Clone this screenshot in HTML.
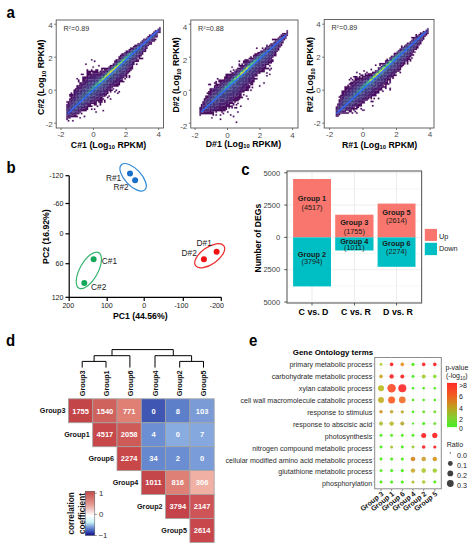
<!DOCTYPE html>
<html><head><meta charset="utf-8"><style>
html,body{margin:0;padding:0;background:#fff;}
svg{display:block;font-family:"Liberation Sans", sans-serif;}
</style></head><body>
<svg width="474" height="550" viewBox="0 0 474 550">
<rect width="474" height="550" fill="#fff"/>
<text transform="translate(6.6,17.6) scale(1,1.08)" font-size="15" font-weight="bold" fill="#000">a</text>
<text transform="translate(6.4,173.3) scale(1,1.08)" font-size="15" font-weight="bold" fill="#000">b</text>
<text transform="translate(241.3,174.8) scale(1,1.08)" font-size="15" font-weight="bold" fill="#000">c</text>
<text transform="translate(6,345.8) scale(1,1.08)" font-size="15" font-weight="bold" fill="#000">d</text>
<text transform="translate(249.1,346.1) scale(1,1.08)" font-size="15" font-weight="bold" fill="#000">e</text>
<clipPath id="clip1"><rect x="56.2" y="20" width="107.3" height="108"/></clipPath>
<g clip-path="url(#clip1)"><g transform="translate(56.2,20) scale(1.45)">
<path fill="#46095c" stroke="#46095c" stroke-width="0.14" d="M71 5h1v1h-1zM68 7h1v1h-1zM67 8h1v1h-1zM71 8h1v1h-1zM64 10h1v1h-1zM69 10h1v1h-1zM63 11h1v1h-1zM69 11h1v1h-1zM60 13h1v1h-1zM67 13h2v1h-2zM59 14h1v1h-1zM66 14h2v1h-2zM65 15h1v1h-1zM56 16h1v1h-1zM64 16h2v1h-2zM54 17h2v1h-2zM63 17h1v1h-1zM53 18h2v1h-2zM51 19h2v1h-2zM62 19h1v1h-1zM50 20h2v1h-2zM61 20h1v1h-1zM48 21h2v1h-2zM60 21h2v1h-2zM47 22h1v1h-1zM59 22h1v1h-1zM45 23h2v1h-2zM59 23h1v1h-1zM44 24h2v1h-2zM57 24h2v1h-2zM43 25h2v1h-2zM57 25h1v1h-1zM43 26h1v1h-1zM57 26h3v1h-3zM24 27h1v1h-1zM41 27h2v1h-2zM55 27h2v1h-2zM26 28h1v1h-1zM40 28h2v1h-2zM54 28h3v1h-3zM40 29h1v1h-1zM53 29h1v1h-1zM20 30h1v1h-1zM39 30h1v1h-1zM53 30h1v1h-1zM55 30h1v1h-1zM29 31h1v1h-1zM37 31h2v1h-2zM52 31h1v1h-1zM25 32h1v1h-1zM36 32h2v1h-2zM51 32h2v1h-2zM31 33h5v1h-5zM51 33h2v1h-2zM21 34h1v1h-1zM24 34h1v1h-1zM27 34h2v1h-2zM31 34h1v1h-1zM33 34h2v1h-2zM50 34h2v1h-2zM21 35h8v1h-8zM30 35h1v1h-1zM32 35h1v1h-1zM49 35h2v1h-2zM21 36h3v1h-3zM25 36h5v1h-5zM48 36h2v1h-2zM17 37h2v1h-2zM21 37h4v1h-4zM48 37h1v1h-1zM21 38h2v1h-2zM47 38h2v1h-2zM50 38h1v1h-1zM18 39h4v1h-4zM46 39h1v1h-1zM48 39h1v1h-1zM50 39h1v1h-1zM14 40h1v1h-1zM18 40h3v1h-3zM47 40h1v1h-1zM15 41h1v1h-1zM18 41h2v1h-2zM44 41h2v1h-2zM15 42h1v1h-1zM18 42h1v1h-1zM43 42h4v1h-4zM16 43h2v1h-2zM42 43h2v1h-2zM16 44h1v1h-1zM40 44h4v1h-4zM14 45h3v1h-3zM38 45h5v1h-5zM14 46h1v1h-1zM38 46h1v1h-1zM13 47h2v1h-2zM37 47h1v1h-1zM39 47h1v1h-1zM12 48h2v1h-2zM36 48h3v1h-3zM41 48h1v1h-1zM12 49h1v1h-1zM35 49h1v1h-1zM37 49h1v1h-1zM40 49h1v1h-1zM43 49h1v1h-1zM10 50h1v1h-1zM12 50h1v1h-1zM34 50h2v1h-2zM42 50h1v1h-1zM9 51h3v1h-3zM33 51h2v1h-2zM9 52h3v1h-3zM32 52h2v1h-2zM36 52h1v1h-1zM10 53h1v1h-1zM30 53h2v1h-2zM35 53h1v1h-1zM9 54h2v1h-2zM29 54h4v1h-4zM37 54h1v1h-1zM9 55h1v1h-1zM27 55h5v1h-5zM33 55h1v1h-1zM7 56h3v1h-3zM26 56h2v1h-2zM29 56h3v1h-3zM33 56h1v1h-1zM8 57h1v1h-1zM24 57h4v1h-4zM30 57h1v1h-1zM7 58h1v1h-1zM22 58h2v1h-2zM26 58h2v1h-2zM30 58h1v1h-1zM7 59h1v1h-1zM21 59h4v1h-4zM28 59h1v1h-1zM20 60h2v1h-2zM18 61h4v1h-4zM24 61h1v1h-1zM26 61h1v1h-1zM17 62h4v1h-4zM32 62h1v1h-1zM16 63h1v1h-1zM27 63h1v1h-1zM14 64h2v1h-2zM17 64h1v1h-1zM12 65h2v1h-2zM10 66h5v1h-5zM19 66h1v1h-1zM7 67h3v1h-3zM16 67h1v1h-1zM7 68h1v1h-1zM8 69h1v1h-1zM11 69h1v1h-1z"/>
<path fill="#481c6e" stroke="#481c6e" stroke-width="0.14" d="M70 6h1v1h-1zM71 7h1v1h-1zM70 8h1v1h-1zM66 9h1v1h-1zM68 11h1v1h-1zM62 12h1v1h-1zM67 12h1v1h-1zM66 13h1v1h-1zM65 14h1v1h-1zM58 15h1v1h-1zM64 15h1v1h-1zM57 16h1v1h-1zM63 16h1v1h-1zM62 17h1v1h-1zM61 18h2v1h-2zM53 19h1v1h-1zM61 19h1v1h-1zM60 20h1v1h-1zM50 21h1v1h-1zM59 21h1v1h-1zM48 22h2v1h-2zM58 22h1v1h-1zM47 23h2v1h-2zM57 23h2v1h-2zM46 24h1v1h-1zM56 24h1v1h-1zM45 25h1v1h-1zM56 25h1v1h-1zM44 26h1v1h-1zM55 26h1v1h-1zM43 27h1v1h-1zM54 27h1v1h-1zM42 28h1v1h-1zM53 28h1v1h-1zM41 29h1v1h-1zM52 29h1v1h-1zM40 30h1v1h-1zM51 30h2v1h-2zM39 31h1v1h-1zM51 31h1v1h-1zM38 32h1v1h-1zM50 32h1v1h-1zM36 33h2v1h-2zM49 33h2v1h-2zM35 34h1v1h-1zM48 34h2v1h-2zM31 35h1v1h-1zM33 35h2v1h-2zM48 35h1v1h-1zM30 36h4v1h-4zM47 36h1v1h-1zM25 37h7v1h-7zM47 37h1v1h-1zM23 38h8v1h-8zM44 38h3v1h-3zM22 39h6v1h-6zM29 39h1v1h-1zM43 39h3v1h-3zM21 40h5v1h-5zM41 40h5v1h-5zM20 41h2v1h-2zM40 41h4v1h-4zM19 42h3v1h-3zM39 42h4v1h-4zM18 43h4v1h-4zM38 43h4v1h-4zM17 44h4v1h-4zM36 44h4v1h-4zM17 45h2v1h-2zM36 45h2v1h-2zM15 46h3v1h-3zM35 46h3v1h-3zM15 47h3v1h-3zM34 47h3v1h-3zM14 48h2v1h-2zM33 48h3v1h-3zM13 49h3v1h-3zM33 49h2v1h-2zM13 50h2v1h-2zM31 50h3v1h-3zM12 51h2v1h-2zM29 51h4v1h-4zM12 52h2v1h-2zM29 52h3v1h-3zM11 53h2v1h-2zM27 53h3v1h-3zM11 54h2v1h-2zM26 54h3v1h-3zM10 55h2v1h-2zM23 55h4v1h-4zM10 56h1v1h-1zM23 56h3v1h-3zM9 57h1v1h-1zM22 57h2v1h-2zM8 58h2v1h-2zM21 58h1v1h-1zM8 59h2v1h-2zM19 59h2v1h-2zM7 60h2v1h-2zM17 60h3v1h-3zM7 61h1v1h-1zM16 61h2v1h-2zM7 62h1v1h-1zM15 62h2v1h-2zM13 63h3v1h-3zM11 64h3v1h-3zM8 65h4v1h-4zM7 66h3v1h-3z"/>
<path fill="#472c7b" stroke="#472c7b" stroke-width="0.14" d="M71 6h1v1h-1zM69 7h2v1h-2zM69 8h1v1h-1zM69 9h1v1h-1zM65 10h1v1h-1zM64 11h1v1h-1zM67 11h1v1h-1zM61 13h1v1h-1zM65 13h1v1h-1zM60 14h1v1h-1zM64 14h1v1h-1zM59 15h1v1h-1zM56 17h1v1h-1zM55 18h1v1h-1zM60 19h1v1h-1zM52 20h1v1h-1zM59 20h1v1h-1zM51 21h1v1h-1zM50 22h1v1h-1zM57 22h1v1h-1zM47 24h1v1h-1zM55 24h1v1h-1zM46 25h1v1h-1zM54 25h2v1h-2zM45 26h1v1h-1zM53 26h2v1h-2zM44 27h1v1h-1zM53 27h1v1h-1zM52 28h1v1h-1zM50 29h2v1h-2zM50 30h1v1h-1zM49 31h2v1h-2zM47 32h1v1h-1zM49 32h1v1h-1zM47 33h2v1h-2zM36 34h1v1h-1zM47 34h1v1h-1zM35 35h1v1h-1zM45 35h3v1h-3zM43 36h4v1h-4zM32 37h1v1h-1zM44 37h3v1h-3zM31 38h2v1h-2zM40 38h1v1h-1zM42 38h2v1h-2zM28 39h1v1h-1zM30 39h1v1h-1zM41 39h2v1h-2zM26 40h3v1h-3zM40 40h1v1h-1zM22 41h5v1h-5zM39 41h1v1h-1zM22 42h3v1h-3zM37 42h2v1h-2zM22 43h1v1h-1zM24 43h1v1h-1zM36 43h2v1h-2zM21 44h1v1h-1zM35 44h1v1h-1zM19 45h3v1h-3zM34 45h2v1h-2zM18 46h3v1h-3zM32 46h1v1h-1zM34 46h1v1h-1zM18 47h1v1h-1zM32 47h2v1h-2zM16 48h3v1h-3zM30 48h1v1h-1zM32 48h1v1h-1zM16 49h2v1h-2zM29 49h4v1h-4zM15 50h3v1h-3zM29 50h2v1h-2zM14 51h2v1h-2zM27 51h2v1h-2zM14 52h1v1h-1zM16 52h1v1h-1zM25 52h4v1h-4zM13 53h2v1h-2zM24 53h3v1h-3zM13 54h1v1h-1zM23 54h3v1h-3zM12 55h2v1h-2zM11 56h2v1h-2zM20 56h3v1h-3zM10 57h2v1h-2zM19 57h3v1h-3zM10 58h1v1h-1zM17 58h4v1h-4zM18 59h1v1h-1zM9 60h1v1h-1zM15 60h2v1h-2zM8 61h2v1h-2zM14 61h2v1h-2zM8 62h2v1h-2zM13 62h2v1h-2zM7 63h6v1h-6zM7 64h4v1h-4zM7 65h1v1h-1z"/>
<path fill="#433b83" stroke="#433b83" stroke-width="0.14" d="M68 8h1v1h-1zM68 9h1v1h-1zM67 10h2v1h-2zM66 11h1v1h-1zM63 12h1v1h-1zM65 12h2v1h-2zM62 13h1v1h-1zM61 14h1v1h-1zM63 14h1v1h-1zM60 15h4v1h-4zM58 16h1v1h-1zM62 16h1v1h-1zM57 17h1v1h-1zM60 17h2v1h-2zM59 18h2v1h-2zM54 19h1v1h-1zM58 19h2v1h-2zM53 20h1v1h-1zM58 20h1v1h-1zM57 21h2v1h-2zM55 22h1v1h-1zM55 23h2v1h-2zM54 24h1v1h-1zM52 25h2v1h-2zM51 26h2v1h-2zM50 27h3v1h-3zM43 28h1v1h-1zM50 28h2v1h-2zM42 29h1v1h-1zM49 29h1v1h-1zM41 30h1v1h-1zM48 30h2v1h-2zM40 31h1v1h-1zM48 31h1v1h-1zM46 32h1v1h-1zM48 32h1v1h-1zM38 33h1v1h-1zM45 33h1v1h-1zM42 34h5v1h-5zM43 35h2v1h-2zM34 36h1v1h-1zM41 36h1v1h-1zM33 37h1v1h-1zM39 37h5v1h-5zM39 38h1v1h-1zM41 38h1v1h-1zM39 39h2v1h-2zM29 40h2v1h-2zM36 40h4v1h-4zM27 41h2v1h-2zM35 41h4v1h-4zM25 42h3v1h-3zM35 42h2v1h-2zM23 43h1v1h-1zM26 43h1v1h-1zM34 43h2v1h-2zM22 44h5v1h-5zM32 44h3v1h-3zM22 45h2v1h-2zM31 45h3v1h-3zM21 46h2v1h-2zM30 46h1v1h-1zM33 46h1v1h-1zM19 47h1v1h-1zM21 47h2v1h-2zM29 47h3v1h-3zM19 48h2v1h-2zM28 48h2v1h-2zM31 48h1v1h-1zM18 49h3v1h-3zM27 49h2v1h-2zM19 50h1v1h-1zM26 50h3v1h-3zM16 51h2v1h-2zM24 51h1v1h-1zM26 51h1v1h-1zM15 52h1v1h-1zM23 52h2v1h-2zM15 53h1v1h-1zM22 53h2v1h-2zM14 54h3v1h-3zM21 54h2v1h-2zM14 55h1v1h-1zM20 55h3v1h-3zM13 56h1v1h-1zM19 56h1v1h-1zM12 57h1v1h-1zM14 57h1v1h-1zM17 57h2v1h-2zM11 58h1v1h-1zM10 59h2v1h-2zM13 59h2v1h-2zM16 59h2v1h-2zM10 60h1v1h-1zM12 60h1v1h-1zM14 60h1v1h-1zM10 61h4v1h-4zM10 62h3v1h-3z"/>
<path fill="#3d4a89" stroke="#3d4a89" stroke-width="0.14" d="M67 9h1v1h-1zM66 10h1v1h-1zM65 11h1v1h-1zM64 12h1v1h-1zM63 13h2v1h-2zM62 14h1v1h-1zM59 16h3v1h-3zM59 17h1v1h-1zM56 18h1v1h-1zM55 19h1v1h-1zM56 20h2v1h-2zM55 21h2v1h-2zM56 22h1v1h-1zM49 23h1v1h-1zM53 23h2v1h-2zM48 24h1v1h-1zM53 24h1v1h-1zM50 26h1v1h-1zM48 28h2v1h-2zM47 29h2v1h-2zM46 30h2v1h-2zM45 31h3v1h-3zM39 32h1v1h-1zM44 32h2v1h-2zM43 33h1v1h-1zM46 33h1v1h-1zM42 35h1v1h-1zM40 36h1v1h-1zM42 36h1v1h-1zM38 38h1v1h-1zM31 39h1v1h-1zM37 39h2v1h-2zM29 41h1v1h-1zM34 41h1v1h-1zM28 42h1v1h-1zM34 42h1v1h-1zM25 43h1v1h-1zM32 43h2v1h-2zM31 44h1v1h-1zM24 45h2v1h-2zM30 45h1v1h-1zM23 46h1v1h-1zM29 46h1v1h-1zM31 46h1v1h-1zM20 47h1v1h-1zM28 47h1v1h-1zM21 48h2v1h-2zM26 48h2v1h-2zM21 49h1v1h-1zM25 49h2v1h-2zM18 50h1v1h-1zM20 50h1v1h-1zM24 50h2v1h-2zM18 51h1v1h-1zM23 51h1v1h-1zM25 51h1v1h-1zM17 52h2v1h-2zM21 52h2v1h-2zM16 53h2v1h-2zM20 53h2v1h-2zM19 54h2v1h-2zM15 55h2v1h-2zM19 55h1v1h-1zM14 56h2v1h-2zM17 56h2v1h-2zM13 57h1v1h-1zM15 57h2v1h-2zM12 58h5v1h-5zM12 59h1v1h-1zM15 59h1v1h-1zM11 60h1v1h-1zM13 60h1v1h-1z"/>
<path fill="#37588c" stroke="#37588c" stroke-width="0.14" d="M58 17h1v1h-1zM57 18h2v1h-2zM52 21h1v1h-1zM51 22h1v1h-1zM53 22h2v1h-2zM52 24h1v1h-1zM47 25h1v1h-1zM51 25h1v1h-1zM45 27h1v1h-1zM49 27h1v1h-1zM44 33h1v1h-1zM37 34h1v1h-1zM41 35h1v1h-1zM39 36h1v1h-1zM37 38h1v1h-1zM36 39h1v1h-1zM35 40h1v1h-1zM33 42h1v1h-1zM27 43h1v1h-1zM29 45h1v1h-1zM24 46h1v1h-1zM23 47h1v1h-1zM19 51h4v1h-4zM19 52h1v1h-1zM18 53h2v1h-2zM17 54h1v1h-1zM17 55h2v1h-2zM16 56h1v1h-1z"/>
<path fill="#31658d" stroke="#31658d" stroke-width="0.14" d="M56 19h2v1h-2zM54 20h1v1h-1zM53 21h1v1h-1zM52 23h1v1h-1zM46 26h1v1h-1zM44 28h1v1h-1zM45 30h1v1h-1zM44 31h1v1h-1zM43 32h1v1h-1zM42 33h1v1h-1zM41 34h1v1h-1zM36 35h1v1h-1zM40 35h1v1h-1zM35 36h1v1h-1zM34 37h1v1h-1zM38 37h1v1h-1zM33 38h1v1h-1zM31 43h1v1h-1zM28 46h1v1h-1zM24 47h1v1h-1zM27 47h1v1h-1zM23 48h1v1h-1zM21 50h1v1h-1zM23 50h1v1h-1zM20 52h1v1h-1zM18 54h1v1h-1z"/>
<path fill="#2c728e" stroke="#2c728e" stroke-width="0.14" d="M55 20h1v1h-1zM54 21h1v1h-1zM52 22h1v1h-1zM49 24h1v1h-1zM51 24h1v1h-1zM50 25h1v1h-1zM47 28h1v1h-1zM46 29h1v1h-1zM32 39h1v1h-1zM28 43h1v1h-1zM30 44h1v1h-1zM22 49h3v1h-3z"/>
<path fill="#277d8e" stroke="#277d8e" stroke-width="0.14" d="M50 23h2v1h-2zM49 26h1v1h-1zM48 27h1v1h-1zM43 29h1v1h-1zM29 42h1v1h-1zM32 42h1v1h-1zM26 45h1v1h-1zM25 48h1v1h-1zM22 50h1v1h-1z"/>
<path fill="#22898d" stroke="#22898d" stroke-width="0.14" d="M48 25h1v1h-1zM42 30h1v1h-1zM35 39h1v1h-1zM34 40h1v1h-1zM33 41h1v1h-1zM25 46h1v1h-1zM25 47h1v1h-1zM24 48h1v1h-1z"/>
<path fill="#1f968b" stroke="#1f968b" stroke-width="0.14" d="M49 25h1v1h-1zM47 26h1v1h-1zM41 31h1v1h-1zM31 40h1v1h-1zM30 41h1v1h-1zM27 44h1v1h-1zM29 44h1v1h-1zM26 46h2v1h-2zM26 47h1v1h-1z"/>
<path fill="#1fa286" stroke="#1fa286" stroke-width="0.14" d="M50 24h1v1h-1zM47 27h1v1h-1zM40 32h1v1h-1zM39 33h1v1h-1zM38 36h1v1h-1zM30 43h1v1h-1z"/>
<path fill="#28ae7f" stroke="#28ae7f" stroke-width="0.14" d="M46 28h1v1h-1zM44 30h1v1h-1zM38 34h1v1h-1zM37 37h1v1h-1zM36 38h1v1h-1zM29 43h1v1h-1zM28 44h1v1h-1zM27 45h2v1h-2z"/>
<path fill="#38b976" stroke="#38b976" stroke-width="0.14" d="M48 26h1v1h-1zM45 28h1v1h-1z"/>
<path fill="#4fc369" stroke="#4fc369" stroke-width="0.14" d="M43 31h1v1h-1zM31 41h1v1h-1zM31 42h1v1h-1z"/>
<path fill="#6bcd59" stroke="#6bcd59" stroke-width="0.14" d="M46 27h1v1h-1zM44 29h1v1h-1zM42 32h1v1h-1zM41 33h1v1h-1zM40 34h1v1h-1zM39 35h1v1h-1zM36 36h1v1h-1zM33 39h1v1h-1zM32 41h1v1h-1z"/>
<path fill="#8bd546" stroke="#8bd546" stroke-width="0.14" d="M45 29h1v1h-1zM43 30h1v1h-1zM34 38h1v1h-1zM34 39h1v1h-1zM32 40h1v1h-1z"/>
<path fill="#addc30" stroke="#addc30" stroke-width="0.14" d="M42 31h1v1h-1zM35 37h1v1h-1zM33 40h1v1h-1zM30 42h1v1h-1z"/>
<path fill="#cde01d" stroke="#cde01d" stroke-width="0.14" d="M41 32h1v1h-1zM37 35h2v1h-2zM36 37h1v1h-1zM35 38h1v1h-1z"/>
<path fill="#eee51b" stroke="#eee51b" stroke-width="0.14" d="M40 33h1v1h-1zM39 34h1v1h-1zM37 36h1v1h-1z"/>
<path d="M1 0V75M2 0V75M3 0V75M4 0V75M5 0V75M6 0V75M7 0V75M8 0V75M9 0V75M10 0V75M11 0V75M12 0V75M13 0V75M14 0V75M15 0V75M16 0V75M17 0V75M18 0V75M19 0V75M20 0V75M21 0V75M22 0V75M23 0V75M24 0V75M25 0V75M26 0V75M27 0V75M28 0V75M29 0V75M30 0V75M31 0V75M32 0V75M33 0V75M34 0V75M35 0V75M36 0V75M37 0V75M38 0V75M39 0V75M40 0V75M41 0V75M42 0V75M43 0V75M44 0V75M45 0V75M46 0V75M47 0V75M48 0V75M49 0V75M50 0V75M51 0V75M52 0V75M53 0V75M54 0V75M55 0V75M56 0V75M57 0V75M58 0V75M59 0V75M60 0V75M61 0V75M62 0V75M63 0V75M64 0V75M65 0V75M66 0V75M67 0V75M68 0V75M69 0V75M70 0V75M71 0V75M72 0V75M73 0V75M74 0V75M0 1H75M0 2H75M0 3H75M0 4H75M0 5H75M0 6H75M0 7H75M0 8H75M0 9H75M0 10H75M0 11H75M0 12H75M0 13H75M0 14H75M0 15H75M0 16H75M0 17H75M0 18H75M0 19H75M0 20H75M0 21H75M0 22H75M0 23H75M0 24H75M0 25H75M0 26H75M0 27H75M0 28H75M0 29H75M0 30H75M0 31H75M0 32H75M0 33H75M0 34H75M0 35H75M0 36H75M0 37H75M0 38H75M0 39H75M0 40H75M0 41H75M0 42H75M0 43H75M0 44H75M0 45H75M0 46H75M0 47H75M0 48H75M0 49H75M0 50H75M0 51H75M0 52H75M0 53H75M0 54H75M0 55H75M0 56H75M0 57H75M0 58H75M0 59H75M0 60H75M0 61H75M0 62H75M0 63H75M0 64H75M0 65H75M0 66H75M0 67H75M0 68H75M0 69H75M0 70H75M0 71H75M0 72H75M0 73H75M0 74H75" stroke="#fff" stroke-opacity="0.12" stroke-width="0.22" fill="none"/>
</g>
<line x1="67.8" y1="113.5" x2="158.3" y2="30.3" stroke="#3366ff" stroke-width="1.3"/>
</g>
<rect x="56.2" y="20" width="107.3" height="108" fill="none" stroke="#555" stroke-width="0.9"/>
<line x1="61" y1="128" x2="61" y2="130" stroke="#555" stroke-width="0.8"/>
<text x="61" y="136.8" font-size="8" text-anchor="middle" fill="#4d4d4d" >-2</text>
<line x1="93.5" y1="128" x2="93.5" y2="130" stroke="#555" stroke-width="0.8"/>
<text x="93.5" y="136.8" font-size="8" text-anchor="middle" fill="#4d4d4d" >0</text>
<line x1="126" y1="128" x2="126" y2="130" stroke="#555" stroke-width="0.8"/>
<text x="126" y="136.8" font-size="8" text-anchor="middle" fill="#4d4d4d" >2</text>
<line x1="158.7" y1="128" x2="158.7" y2="130" stroke="#555" stroke-width="0.8"/>
<text x="158.7" y="136.8" font-size="8" text-anchor="middle" fill="#4d4d4d" >4</text>
<line x1="54.2" y1="24.2" x2="56.2" y2="24.2" stroke="#555" stroke-width="0.8"/>
<text x="52.7" y="28.099999999999998" font-size="8" text-anchor="end" fill="#4d4d4d" >4</text>
<line x1="54.2" y1="57.2" x2="56.2" y2="57.2" stroke="#555" stroke-width="0.8"/>
<text x="52.7" y="61.1" font-size="8" text-anchor="end" fill="#4d4d4d" >2</text>
<line x1="54.2" y1="90.2" x2="56.2" y2="90.2" stroke="#555" stroke-width="0.8"/>
<text x="52.7" y="94.10000000000001" font-size="8" text-anchor="end" fill="#4d4d4d" >0</text>
<line x1="54.2" y1="123.2" x2="56.2" y2="123.2" stroke="#555" stroke-width="0.8"/>
<text x="52.7" y="127.10000000000001" font-size="8" text-anchor="end" fill="#4d4d4d" >-2</text>
<text x="108.55" y="147.6" font-size="8.8" font-weight="bold" text-anchor="middle" fill="#000">C#1 (Log<tspan font-size="5.8" dy="1.5">10</tspan><tspan dy="-1.5"> RPKM)</tspan></text>
<text transform="translate(44.400000000000006,77.2) rotate(-90)" font-size="8.8" font-weight="bold" text-anchor="middle" fill="#000">C#2 (Log<tspan font-size="5.8" dy="1.5">10</tspan><tspan dy="-1.5"> RPKM)</tspan></text>
<text x="63.400000000000006" y="30.8" font-size="7.2" fill="#333">R<tspan font-size="4.4" dy="-2.3">2</tspan><tspan dy="2.3">=0.89</tspan></text>
<clipPath id="clip2"><rect x="190.8" y="20" width="107.19999999999999" height="108"/></clipPath>
<g clip-path="url(#clip2)"><g transform="translate(190.8,20) scale(1.45)">
<path fill="#46095c" stroke="#46095c" stroke-width="0.14" d="M66 7h1v1h-1zM63 9h2v1h-2zM62 10h1v1h-1zM61 11h1v1h-1zM60 12h1v1h-1zM65 12h1v1h-1zM56 13h4v1h-4zM64 13h1v1h-1zM63 15h1v1h-1zM55 16h1v1h-1zM62 16h1v1h-1zM52 17h1v1h-1zM54 17h1v1h-1zM62 17h1v1h-1zM52 18h1v1h-1zM61 18h1v1h-1zM45 19h1v1h-1zM49 19h1v1h-1zM51 19h1v1h-1zM60 19h1v1h-1zM50 20h1v1h-1zM60 20h1v1h-1zM48 21h1v1h-1zM59 21h1v1h-1zM46 22h2v1h-2zM58 22h1v1h-1zM44 23h3v1h-3zM57 23h2v1h-2zM43 24h3v1h-3zM57 24h2v1h-2zM41 25h1v1h-1zM43 25h1v1h-1zM56 25h1v1h-1zM40 26h3v1h-3zM37 27h3v1h-3zM55 27h2v1h-2zM33 28h1v1h-1zM36 28h4v1h-4zM54 28h3v1h-3zM36 29h2v1h-2zM53 29h3v1h-3zM33 30h1v1h-1zM35 30h1v1h-1zM51 30h3v1h-3zM33 31h3v1h-3zM51 31h1v1h-1zM54 31h1v1h-1zM28 32h1v1h-1zM34 32h2v1h-2zM50 32h2v1h-2zM32 33h2v1h-2zM49 33h5v1h-5zM55 33h1v1h-1zM29 34h1v1h-1zM31 34h1v1h-1zM48 34h3v1h-3zM54 34h1v1h-1zM27 35h1v1h-1zM30 35h1v1h-1zM47 35h4v1h-4zM28 36h2v1h-2zM46 36h2v1h-2zM52 36h1v1h-1zM24 37h5v1h-5zM45 37h1v1h-1zM54 37h1v1h-1zM24 38h3v1h-3zM44 38h2v1h-2zM52 38h1v1h-1zM23 39h3v1h-3zM18 40h1v1h-1zM23 40h2v1h-2zM43 40h3v1h-3zM19 41h5v1h-5zM42 41h2v1h-2zM17 42h1v1h-1zM19 42h3v1h-3zM41 42h3v1h-3zM16 43h2v1h-2zM20 43h1v1h-1zM40 43h3v1h-3zM50 43h1v1h-1zM12 44h2v1h-2zM17 44h3v1h-3zM39 44h1v1h-1zM41 44h2v1h-2zM16 45h3v1h-3zM38 45h3v1h-3zM47 45h1v1h-1zM16 46h1v1h-1zM38 46h3v1h-3zM42 46h1v1h-1zM13 47h2v1h-2zM37 47h3v1h-3zM13 48h2v1h-2zM36 48h4v1h-4zM41 48h1v1h-1zM12 49h2v1h-2zM34 49h3v1h-3zM11 50h3v1h-3zM34 50h1v1h-1zM12 51h1v1h-1zM33 51h2v1h-2zM36 51h1v1h-1zM10 52h2v1h-2zM32 52h3v1h-3zM38 52h1v1h-1zM10 53h2v1h-2zM30 53h6v1h-6zM9 54h2v1h-2zM29 54h5v1h-5zM39 54h1v1h-1zM9 55h1v1h-1zM29 55h4v1h-4zM8 56h1v1h-1zM26 56h3v1h-3zM30 56h1v1h-1zM8 57h1v1h-1zM26 57h4v1h-4zM32 57h1v1h-1zM7 58h1v1h-1zM24 58h3v1h-3zM29 58h1v1h-1zM31 58h1v1h-1zM7 59h1v1h-1zM21 59h8v1h-8zM34 59h1v1h-1zM6 60h1v1h-1zM19 60h6v1h-6zM26 60h1v1h-1zM28 60h1v1h-1zM30 60h2v1h-2zM6 61h1v1h-1zM18 61h7v1h-7zM13 62h1v1h-1zM16 62h8v1h-8zM9 63h7v1h-7zM17 63h1v1h-1zM21 63h1v1h-1zM25 63h1v1h-1zM32 63h1v1h-1zM7 64h9v1h-9zM22 64h1v1h-1zM6 65h1v1h-1zM15 65h1v1h-1zM17 65h1v1h-1zM20 65h1v1h-1zM27 65h1v1h-1zM29 66h1v1h-1zM14 67h1v1h-1zM20 68h1v1h-1zM31 70h1v1h-1z"/>
<path fill="#481c6e" stroke="#481c6e" stroke-width="0.14" d="M66 8h1v1h-1zM65 9h1v1h-1zM63 10h2v1h-2zM66 10h1v1h-1zM65 11h1v1h-1zM58 14h1v1h-1zM63 14h1v1h-1zM57 15h1v1h-1zM62 15h1v1h-1zM56 16h1v1h-1zM61 17h1v1h-1zM53 18h1v1h-1zM60 18h1v1h-1zM52 19h1v1h-1zM59 19h1v1h-1zM51 20h1v1h-1zM59 20h1v1h-1zM49 21h1v1h-1zM57 21h2v1h-2zM48 22h1v1h-1zM57 22h1v1h-1zM47 23h1v1h-1zM46 24h1v1h-1zM56 24h1v1h-1zM44 25h1v1h-1zM55 25h1v1h-1zM43 26h1v1h-1zM54 26h2v1h-2zM41 27h1v1h-1zM53 27h2v1h-2zM40 28h1v1h-1zM52 28h2v1h-2zM38 29h3v1h-3zM51 29h2v1h-2zM37 30h2v1h-2zM49 30h2v1h-2zM36 31h2v1h-2zM49 31h2v1h-2zM36 32h1v1h-1zM47 32h3v1h-3zM34 33h2v1h-2zM46 33h3v1h-3zM32 34h3v1h-3zM46 34h2v1h-2zM31 35h2v1h-2zM45 35h2v1h-2zM30 36h2v1h-2zM44 36h2v1h-2zM29 37h2v1h-2zM43 37h2v1h-2zM27 38h3v1h-3zM42 38h2v1h-2zM26 39h3v1h-3zM41 39h3v1h-3zM25 40h3v1h-3zM39 40h4v1h-4zM24 41h3v1h-3zM39 41h3v1h-3zM22 42h3v1h-3zM39 42h2v1h-2zM21 43h3v1h-3zM37 43h3v1h-3zM20 44h2v1h-2zM36 44h3v1h-3zM19 45h2v1h-2zM35 45h3v1h-3zM17 46h3v1h-3zM34 46h4v1h-4zM15 47h3v1h-3zM34 47h3v1h-3zM15 48h3v1h-3zM33 48h3v1h-3zM14 49h3v1h-3zM32 49h2v1h-2zM14 50h1v1h-1zM31 50h3v1h-3zM13 51h2v1h-2zM29 51h1v1h-1zM31 51h2v1h-2zM12 52h2v1h-2zM29 52h3v1h-3zM12 53h1v1h-1zM26 53h4v1h-4zM11 54h1v1h-1zM26 54h3v1h-3zM10 55h1v1h-1zM24 55h5v1h-5zM9 56h1v1h-1zM23 56h3v1h-3zM9 57h1v1h-1zM19 57h7v1h-7zM8 58h2v1h-2zM19 58h5v1h-5zM8 59h1v1h-1zM17 59h4v1h-4zM7 60h1v1h-1zM13 60h1v1h-1zM16 60h3v1h-3zM7 61h1v1h-1zM13 61h5v1h-5zM6 62h1v1h-1zM10 62h3v1h-3zM14 62h2v1h-2zM6 63h1v1h-1zM8 63h1v1h-1zM6 64h1v1h-1z"/>
<path fill="#472c7b" stroke="#472c7b" stroke-width="0.14" d="M66 9h1v1h-1zM65 10h1v1h-1zM62 11h2v1h-2zM61 12h1v1h-1zM63 12h2v1h-2zM60 13h1v1h-1zM63 13h1v1h-1zM59 14h1v1h-1zM57 16h1v1h-1zM60 16h2v1h-2zM55 17h1v1h-1zM60 17h1v1h-1zM54 18h1v1h-1zM59 18h1v1h-1zM58 19h1v1h-1zM58 20h1v1h-1zM50 21h1v1h-1zM56 21h1v1h-1zM49 22h1v1h-1zM56 22h1v1h-1zM55 23h2v1h-2zM52 24h1v1h-1zM54 24h2v1h-2zM45 25h1v1h-1zM53 25h2v1h-2zM52 26h2v1h-2zM42 27h1v1h-1zM51 27h2v1h-2zM41 28h1v1h-1zM49 28h3v1h-3zM48 29h3v1h-3zM39 30h1v1h-1zM48 30h1v1h-1zM38 31h1v1h-1zM46 31h3v1h-3zM37 32h1v1h-1zM44 32h3v1h-3zM44 33h2v1h-2zM43 34h3v1h-3zM33 35h1v1h-1zM42 35h3v1h-3zM32 36h1v1h-1zM41 36h3v1h-3zM31 37h1v1h-1zM41 37h2v1h-2zM30 38h1v1h-1zM40 38h2v1h-2zM39 39h2v1h-2zM37 40h2v1h-2zM27 41h1v1h-1zM37 41h2v1h-2zM25 42h1v1h-1zM34 42h1v1h-1zM36 42h3v1h-3zM24 43h2v1h-2zM35 43h2v1h-2zM22 44h2v1h-2zM34 44h2v1h-2zM21 45h2v1h-2zM29 45h1v1h-1zM32 45h1v1h-1zM34 45h1v1h-1zM20 46h2v1h-2zM32 46h2v1h-2zM18 47h3v1h-3zM28 47h1v1h-1zM31 47h3v1h-3zM18 48h2v1h-2zM31 48h2v1h-2zM17 49h1v1h-1zM28 49h4v1h-4zM15 50h3v1h-3zM26 50h5v1h-5zM15 51h2v1h-2zM25 51h4v1h-4zM30 51h1v1h-1zM14 52h1v1h-1zM25 52h4v1h-4zM13 53h2v1h-2zM24 53h2v1h-2zM12 54h2v1h-2zM19 54h4v1h-4zM24 54h2v1h-2zM11 55h2v1h-2zM20 55h4v1h-4zM10 56h2v1h-2zM19 56h4v1h-4zM10 57h1v1h-1zM16 57h1v1h-1zM18 57h1v1h-1zM10 58h1v1h-1zM15 58h4v1h-4zM9 59h2v1h-2zM14 59h3v1h-3zM8 60h2v1h-2zM12 60h1v1h-1zM14 60h2v1h-2zM8 61h5v1h-5zM7 62h3v1h-3zM7 63h1v1h-1z"/>
<path fill="#433b83" stroke="#433b83" stroke-width="0.14" d="M64 11h1v1h-1zM62 12h1v1h-1zM61 13h2v1h-2zM60 14h3v1h-3zM58 15h4v1h-4zM58 16h2v1h-2zM56 17h4v1h-4zM56 18h1v1h-1zM58 18h1v1h-1zM53 19h2v1h-2zM56 19h1v1h-1zM52 20h2v1h-2zM56 20h2v1h-2zM54 21h2v1h-2zM54 22h2v1h-2zM48 23h1v1h-1zM53 23h2v1h-2zM53 24h1v1h-1zM51 25h2v1h-2zM44 26h1v1h-1zM50 26h2v1h-2zM43 27h1v1h-1zM48 27h3v1h-3zM42 28h1v1h-1zM48 28h1v1h-1zM46 29h2v1h-2zM45 30h3v1h-3zM44 31h2v1h-2zM42 32h2v1h-2zM36 33h1v1h-1zM42 33h2v1h-2zM40 34h3v1h-3zM40 35h2v1h-2zM33 36h1v1h-1zM38 36h3v1h-3zM37 37h4v1h-4zM37 38h3v1h-3zM29 39h1v1h-1zM35 39h4v1h-4zM28 40h1v1h-1zM34 40h3v1h-3zM34 41h3v1h-3zM26 42h1v1h-1zM32 42h2v1h-2zM35 42h1v1h-1zM31 43h4v1h-4zM24 44h1v1h-1zM31 44h3v1h-3zM23 45h1v1h-1zM28 45h1v1h-1zM30 45h1v1h-1zM33 45h1v1h-1zM22 46h1v1h-1zM28 46h4v1h-4zM29 47h2v1h-2zM20 48h1v1h-1zM25 48h6v1h-6zM18 49h2v1h-2zM25 49h3v1h-3zM18 50h1v1h-1zM22 50h1v1h-1zM24 50h2v1h-2zM17 51h1v1h-1zM21 51h4v1h-4zM15 52h2v1h-2zM20 52h5v1h-5zM15 53h1v1h-1zM19 53h5v1h-5zM14 54h1v1h-1zM18 54h1v1h-1zM23 54h1v1h-1zM13 55h1v1h-1zM17 55h3v1h-3zM12 56h7v1h-7zM11 57h3v1h-3zM15 57h1v1h-1zM17 57h1v1h-1zM12 58h3v1h-3zM11 59h3v1h-3zM10 60h2v1h-2z"/>
<path fill="#3d4a89" stroke="#3d4a89" stroke-width="0.14" d="M55 18h1v1h-1zM57 18h1v1h-1zM55 19h1v1h-1zM57 19h1v1h-1zM54 20h2v1h-2zM51 21h1v1h-1zM50 22h1v1h-1zM53 22h1v1h-1zM51 23h2v1h-2zM47 24h1v1h-1zM50 24h2v1h-2zM46 25h1v1h-1zM49 25h2v1h-2zM49 26h1v1h-1zM47 27h1v1h-1zM46 28h2v1h-2zM41 29h1v1h-1zM45 29h1v1h-1zM44 30h1v1h-1zM43 31h1v1h-1zM41 33h1v1h-1zM35 34h1v1h-1zM34 35h1v1h-1zM39 35h1v1h-1zM32 37h1v1h-1zM31 38h1v1h-1zM36 38h1v1h-1zM33 40h1v1h-1zM32 41h2v1h-2zM29 44h2v1h-2zM31 45h1v1h-1zM27 46h1v1h-1zM21 47h1v1h-1zM25 47h3v1h-3zM21 48h1v1h-1zM24 48h1v1h-1zM23 49h2v1h-2zM19 50h1v1h-1zM23 50h1v1h-1zM18 53h1v1h-1zM15 54h3v1h-3zM14 55h1v1h-1zM16 55h1v1h-1zM14 57h1v1h-1zM11 58h1v1h-1z"/>
<path fill="#37588c" stroke="#37588c" stroke-width="0.14" d="M52 21h2v1h-2zM52 22h1v1h-1zM48 26h1v1h-1zM30 39h1v1h-1zM34 39h1v1h-1zM31 42h1v1h-1zM30 43h1v1h-1zM28 44h1v1h-1zM22 47h1v1h-1zM22 49h1v1h-1zM21 50h1v1h-1zM18 51h3v1h-3zM17 52h3v1h-3zM16 53h2v1h-2zM15 55h1v1h-1z"/>
<path fill="#31658d" stroke="#31658d" stroke-width="0.14" d="M51 22h1v1h-1zM50 23h1v1h-1zM48 24h2v1h-2zM48 25h1v1h-1zM46 26h2v1h-2zM44 27h1v1h-1zM45 28h1v1h-1zM40 30h1v1h-1zM43 30h1v1h-1zM39 31h1v1h-1zM35 38h1v1h-1zM29 40h1v1h-1zM28 41h1v1h-1zM24 45h1v1h-1zM27 45h1v1h-1zM24 47h1v1h-1zM20 49h1v1h-1zM20 50h1v1h-1z"/>
<path fill="#2c728e" stroke="#2c728e" stroke-width="0.14" d="M49 23h1v1h-1zM47 25h1v1h-1zM45 26h1v1h-1zM44 29h1v1h-1zM38 32h1v1h-1zM37 33h1v1h-1zM40 33h1v1h-1zM39 34h1v1h-1zM38 35h1v1h-1zM37 36h1v1h-1zM36 37h1v1h-1zM26 43h1v1h-1zM29 43h1v1h-1zM25 44h1v1h-1zM23 46h1v1h-1zM26 46h1v1h-1zM22 48h2v1h-2zM21 49h1v1h-1z"/>
<path fill="#277d8e" stroke="#277d8e" stroke-width="0.14" d="M46 27h1v1h-1zM43 28h1v1h-1zM42 31h1v1h-1zM36 34h1v1h-1zM31 41h1v1h-1zM27 42h1v1h-1zM23 47h1v1h-1z"/>
<path fill="#22898d" stroke="#22898d" stroke-width="0.14" d="M45 27h1v1h-1zM41 32h1v1h-1zM26 45h1v1h-1z"/>
<path fill="#1f968b" stroke="#1f968b" stroke-width="0.14" d="M42 29h1v1h-1zM33 37h1v1h-1zM32 38h1v1h-1zM33 39h1v1h-1zM27 43h1v1h-1zM26 44h1v1h-1zM25 45h1v1h-1zM25 46h1v1h-1z"/>
<path fill="#1fa286" stroke="#1fa286" stroke-width="0.14" d="M41 30h1v1h-1zM35 35h1v1h-1zM34 38h1v1h-1zM31 39h1v1h-1zM29 41h1v1h-1zM28 42h1v1h-1zM30 42h1v1h-1z"/>
<path fill="#28ae7f" stroke="#28ae7f" stroke-width="0.14" d="M44 28h1v1h-1zM41 31h1v1h-1zM32 40h1v1h-1zM28 43h1v1h-1zM27 44h1v1h-1zM24 46h1v1h-1z"/>
<path fill="#38b976" stroke="#38b976" stroke-width="0.14" d="M40 31h1v1h-1zM34 36h1v1h-1zM30 41h1v1h-1zM29 42h1v1h-1z"/>
<path fill="#4fc369" stroke="#4fc369" stroke-width="0.14" d="M43 29h1v1h-1zM38 34h1v1h-1zM37 35h1v1h-1zM30 40h1v1h-1z"/>
<path fill="#6bcd59" stroke="#6bcd59" stroke-width="0.14" d="M42 30h1v1h-1zM39 32h2v1h-2zM39 33h1v1h-1zM37 34h1v1h-1zM36 36h1v1h-1zM35 37h1v1h-1zM33 38h1v1h-1zM31 40h1v1h-1z"/>
<path fill="#addc30" stroke="#addc30" stroke-width="0.14" d="M32 39h1v1h-1z"/>
<path fill="#cde01d" stroke="#cde01d" stroke-width="0.14" d="M36 35h1v1h-1zM34 37h1v1h-1z"/>
<path fill="#eee51b" stroke="#eee51b" stroke-width="0.14" d="M38 33h1v1h-1zM35 36h1v1h-1z"/>
<path d="M1 0V75M2 0V75M3 0V75M4 0V75M5 0V75M6 0V75M7 0V75M8 0V75M9 0V75M10 0V75M11 0V75M12 0V75M13 0V75M14 0V75M15 0V75M16 0V75M17 0V75M18 0V75M19 0V75M20 0V75M21 0V75M22 0V75M23 0V75M24 0V75M25 0V75M26 0V75M27 0V75M28 0V75M29 0V75M30 0V75M31 0V75M32 0V75M33 0V75M34 0V75M35 0V75M36 0V75M37 0V75M38 0V75M39 0V75M40 0V75M41 0V75M42 0V75M43 0V75M44 0V75M45 0V75M46 0V75M47 0V75M48 0V75M49 0V75M50 0V75M51 0V75M52 0V75M53 0V75M54 0V75M55 0V75M56 0V75M57 0V75M58 0V75M59 0V75M60 0V75M61 0V75M62 0V75M63 0V75M64 0V75M65 0V75M66 0V75M67 0V75M68 0V75M69 0V75M70 0V75M71 0V75M72 0V75M73 0V75M0 1H74M0 2H74M0 3H74M0 4H74M0 5H74M0 6H74M0 7H74M0 8H74M0 9H74M0 10H74M0 11H74M0 12H74M0 13H74M0 14H74M0 15H74M0 16H74M0 17H74M0 18H74M0 19H74M0 20H74M0 21H74M0 22H74M0 23H74M0 24H74M0 25H74M0 26H74M0 27H74M0 28H74M0 29H74M0 30H74M0 31H74M0 32H74M0 33H74M0 34H74M0 35H74M0 36H74M0 37H74M0 38H74M0 39H74M0 40H74M0 41H74M0 42H74M0 43H74M0 44H74M0 45H74M0 46H74M0 47H74M0 48H74M0 49H74M0 50H74M0 51H74M0 52H74M0 53H74M0 54H74M0 55H74M0 56H74M0 57H74M0 58H74M0 59H74M0 60H74M0 61H74M0 62H74M0 63H74M0 64H74M0 65H74M0 66H74M0 67H74M0 68H74M0 69H74M0 70H74M0 71H74M0 72H74M0 73H74M0 74H74" stroke="#fff" stroke-opacity="0.12" stroke-width="0.22" fill="none"/>
</g>
<line x1="201.2" y1="111.9" x2="285.8" y2="35.2" stroke="#3366ff" stroke-width="1.3"/>
</g>
<rect x="190.8" y="20" width="107.19999999999999" height="108" fill="none" stroke="#555" stroke-width="0.9"/>
<line x1="195.1" y1="128" x2="195.1" y2="130" stroke="#555" stroke-width="0.8"/>
<text x="195.1" y="137.9" font-size="8" text-anchor="middle" fill="#4d4d4d" >-2</text>
<line x1="227.5" y1="128" x2="227.5" y2="130" stroke="#555" stroke-width="0.8"/>
<text x="227.5" y="137.9" font-size="8" text-anchor="middle" fill="#4d4d4d" >0</text>
<line x1="259.9" y1="128" x2="259.9" y2="130" stroke="#555" stroke-width="0.8"/>
<text x="259.9" y="137.9" font-size="8" text-anchor="middle" fill="#4d4d4d" >2</text>
<line x1="292.6" y1="128" x2="292.6" y2="130" stroke="#555" stroke-width="0.8"/>
<text x="292.6" y="137.9" font-size="8" text-anchor="middle" fill="#4d4d4d" >4</text>
<line x1="188.8" y1="24.2" x2="190.8" y2="24.2" stroke="#555" stroke-width="0.8"/>
<text x="187.3" y="30.099999999999998" font-size="8" text-anchor="end" fill="#4d4d4d" >4</text>
<line x1="188.8" y1="57.2" x2="190.8" y2="57.2" stroke="#555" stroke-width="0.8"/>
<text x="187.3" y="63.1" font-size="8" text-anchor="end" fill="#4d4d4d" >2</text>
<line x1="188.8" y1="90.2" x2="190.8" y2="90.2" stroke="#555" stroke-width="0.8"/>
<text x="187.3" y="96.10000000000001" font-size="8" text-anchor="end" fill="#4d4d4d" >0</text>
<line x1="188.8" y1="123.2" x2="190.8" y2="123.2" stroke="#555" stroke-width="0.8"/>
<text x="187.3" y="129.10000000000002" font-size="8" text-anchor="end" fill="#4d4d4d" >-2</text>
<text x="243.4" y="146.6" font-size="8.8" font-weight="bold" text-anchor="middle" fill="#000">D#1 (Log<tspan font-size="5.8" dy="1.5">10</tspan><tspan dy="-1.5"> RPKM)</tspan></text>
<text transform="translate(179.0,74.9) rotate(-90)" font-size="8.8" font-weight="bold" text-anchor="middle" fill="#000">D#2 (Log<tspan font-size="5.8" dy="1.5">10</tspan><tspan dy="-1.5"> RPKM)</tspan></text>
<text x="198.0" y="30.8" font-size="7.2" fill="#333">R<tspan font-size="4.4" dy="-2.3">2</tspan><tspan dy="2.3">=0.88</tspan></text>
<clipPath id="clip3"><rect x="324.2" y="19.5" width="109.80000000000001" height="108.5"/></clipPath>
<g clip-path="url(#clip3)"><g transform="translate(324.2,19.5) scale(1.45)">
<path fill="#46095c" stroke="#46095c" stroke-width="0.14" d="M68 8h1v1h-1zM66 9h1v1h-1zM71 9h1v1h-1zM63 10h1v1h-1zM65 10h1v1h-1zM70 10h1v1h-1zM63 11h1v1h-1zM69 11h1v1h-1zM60 12h3v1h-3zM68 12h1v1h-1zM61 13h1v1h-1zM68 13h1v1h-1zM67 14h1v1h-1zM66 15h1v1h-1zM57 16h1v1h-1zM66 16h1v1h-1zM56 17h1v1h-1zM65 17h1v1h-1zM53 18h1v1h-1zM55 18h1v1h-1zM64 18h1v1h-1zM53 19h1v1h-1zM63 19h2v1h-2zM52 20h1v1h-1zM62 20h2v1h-2zM51 21h1v1h-1zM61 21h1v1h-1zM50 22h1v1h-1zM61 22h2v1h-2zM48 23h2v1h-2zM60 23h1v1h-1zM48 24h1v1h-1zM59 24h3v1h-3zM46 25h1v1h-1zM58 25h2v1h-2zM45 26h1v1h-1zM57 26h2v1h-2zM60 26h1v1h-1zM43 27h1v1h-1zM57 27h3v1h-3zM42 28h2v1h-2zM56 28h2v1h-2zM59 28h1v1h-1zM42 29h1v1h-1zM55 29h1v1h-1zM57 29h1v1h-1zM38 30h4v1h-4zM54 30h2v1h-2zM57 30h1v1h-1zM35 31h1v1h-1zM38 31h1v1h-1zM53 31h2v1h-2zM52 32h2v1h-2zM37 33h1v1h-1zM52 33h1v1h-1zM32 34h1v1h-1zM51 34h2v1h-2zM27 35h1v1h-1zM35 35h1v1h-1zM49 35h3v1h-3zM22 36h1v1h-1zM29 36h1v1h-1zM33 36h2v1h-2zM49 36h1v1h-1zM52 36h1v1h-1zM24 37h1v1h-1zM28 37h1v1h-1zM30 37h4v1h-4zM48 37h1v1h-1zM25 38h2v1h-2zM28 38h5v1h-5zM47 38h3v1h-3zM20 39h3v1h-3zM24 39h1v1h-1zM26 39h3v1h-3zM46 39h2v1h-2zM18 40h1v1h-1zM21 40h6v1h-6zM45 40h1v1h-1zM47 40h1v1h-1zM17 41h1v1h-1zM19 41h1v1h-1zM21 41h3v1h-3zM25 41h1v1h-1zM43 41h3v1h-3zM20 42h3v1h-3zM43 42h1v1h-1zM45 42h1v1h-1zM18 43h3v1h-3zM42 43h2v1h-2zM45 43h1v1h-1zM17 44h3v1h-3zM41 44h4v1h-4zM16 45h1v1h-1zM18 45h1v1h-1zM40 45h1v1h-1zM42 45h1v1h-1zM14 46h4v1h-4zM39 46h4v1h-4zM14 47h3v1h-3zM38 47h2v1h-2zM42 47h1v1h-1zM45 47h1v1h-1zM14 48h2v1h-2zM37 48h3v1h-3zM45 48h1v1h-1zM12 49h3v1h-3zM35 49h3v1h-3zM40 49h1v1h-1zM12 50h2v1h-2zM34 50h4v1h-4zM12 51h2v1h-2zM33 51h3v1h-3zM11 52h2v1h-2zM32 52h4v1h-4zM10 53h2v1h-2zM30 53h3v1h-3zM11 54h1v1h-1zM29 54h2v1h-2zM32 54h1v1h-1zM34 54h1v1h-1zM37 54h1v1h-1zM10 55h1v1h-1zM28 55h2v1h-2zM10 56h1v1h-1zM26 56h2v1h-2zM32 56h2v1h-2zM25 57h3v1h-3zM9 58h1v1h-1zM23 58h3v1h-3zM9 59h1v1h-1zM22 59h4v1h-4zM33 59h1v1h-1zM8 60h1v1h-1zM20 60h1v1h-1zM22 60h2v1h-2zM18 61h5v1h-5zM25 61h1v1h-1zM16 62h3v1h-3zM20 62h1v1h-1zM26 62h2v1h-2zM17 63h2v1h-2zM21 63h1v1h-1zM12 64h5v1h-5zM19 64h1v1h-1zM22 64h1v1h-1zM10 65h1v1h-1zM8 66h2v1h-2z"/>
<path fill="#481c6e" stroke="#481c6e" stroke-width="0.14" d="M71 6h1v1h-1zM70 7h1v1h-1zM71 8h1v1h-1zM67 9h1v1h-1zM70 9h1v1h-1zM69 10h1v1h-1zM64 11h1v1h-1zM68 11h1v1h-1zM63 12h1v1h-1zM62 13h1v1h-1zM67 13h1v1h-1zM60 14h1v1h-1zM66 14h1v1h-1zM59 15h1v1h-1zM65 15h1v1h-1zM58 16h1v1h-1zM64 16h2v1h-2zM64 17h1v1h-1zM56 18h1v1h-1zM63 18h1v1h-1zM54 19h1v1h-1zM62 19h1v1h-1zM53 20h1v1h-1zM61 20h1v1h-1zM52 21h1v1h-1zM60 21h1v1h-1zM51 22h1v1h-1zM59 22h2v1h-2zM58 23h2v1h-2zM58 24h1v1h-1zM47 25h1v1h-1zM56 25h2v1h-2zM46 26h1v1h-1zM56 26h1v1h-1zM45 27h1v1h-1zM55 27h2v1h-2zM55 28h1v1h-1zM53 29h2v1h-2zM52 30h2v1h-2zM40 31h1v1h-1zM51 31h2v1h-2zM39 32h1v1h-1zM49 32h1v1h-1zM51 32h1v1h-1zM38 33h1v1h-1zM50 33h2v1h-2zM37 34h1v1h-1zM48 34h3v1h-3zM36 35h1v1h-1zM47 35h2v1h-2zM46 36h3v1h-3zM45 37h3v1h-3zM44 38h3v1h-3zM29 39h3v1h-3zM43 39h3v1h-3zM27 40h4v1h-4zM42 40h3v1h-3zM24 41h1v1h-1zM26 41h3v1h-3zM41 41h2v1h-2zM23 42h4v1h-4zM41 42h2v1h-2zM21 43h3v1h-3zM38 43h4v1h-4zM20 44h3v1h-3zM38 44h3v1h-3zM19 45h3v1h-3zM37 45h3v1h-3zM18 46h3v1h-3zM36 46h3v1h-3zM17 47h3v1h-3zM34 47h4v1h-4zM16 48h3v1h-3zM33 48h4v1h-4zM15 49h3v1h-3zM32 49h3v1h-3zM14 50h2v1h-2zM31 50h3v1h-3zM14 51h2v1h-2zM30 51h3v1h-3zM13 52h2v1h-2zM29 52h3v1h-3zM12 53h2v1h-2zM27 53h3v1h-3zM12 54h2v1h-2zM26 54h3v1h-3zM11 55h2v1h-2zM24 55h4v1h-4zM11 56h1v1h-1zM24 56h2v1h-2zM10 57h1v1h-1zM21 57h4v1h-4zM10 58h1v1h-1zM20 58h3v1h-3zM19 59h3v1h-3zM9 60h1v1h-1zM17 60h3v1h-3zM8 61h2v1h-2zM15 61h3v1h-3zM8 62h1v1h-1zM14 62h2v1h-2zM12 63h3v1h-3zM10 64h2v1h-2zM8 65h2v1h-2z"/>
<path fill="#472c7b" stroke="#472c7b" stroke-width="0.14" d="M71 7h1v1h-1zM69 8h2v1h-2zM69 9h1v1h-1zM66 10h1v1h-1zM65 11h1v1h-1zM67 12h1v1h-1zM66 13h1v1h-1zM61 14h1v1h-1zM60 15h1v1h-1zM59 16h1v1h-1zM57 17h1v1h-1zM63 17h1v1h-1zM62 18h1v1h-1zM61 19h1v1h-1zM60 20h1v1h-1zM57 22h1v1h-1zM50 23h1v1h-1zM57 23h1v1h-1zM49 24h1v1h-1zM56 24h2v1h-2zM53 26h3v1h-3zM54 27h1v1h-1zM44 28h1v1h-1zM53 28h2v1h-2zM43 29h1v1h-1zM52 29h1v1h-1zM42 30h1v1h-1zM49 30h3v1h-3zM48 31h1v1h-1zM50 31h1v1h-1zM47 32h1v1h-1zM50 32h1v1h-1zM48 33h2v1h-2zM46 34h2v1h-2zM46 35h1v1h-1zM35 36h1v1h-1zM44 36h2v1h-2zM34 37h1v1h-1zM44 37h1v1h-1zM33 38h1v1h-1zM42 38h2v1h-2zM32 39h1v1h-1zM40 39h1v1h-1zM42 39h1v1h-1zM40 40h2v1h-2zM29 41h2v1h-2zM39 41h2v1h-2zM27 42h2v1h-2zM39 42h2v1h-2zM24 43h3v1h-3zM36 43h2v1h-2zM23 44h3v1h-3zM36 44h2v1h-2zM22 45h2v1h-2zM34 45h1v1h-1zM36 45h1v1h-1zM21 46h2v1h-2zM33 46h3v1h-3zM20 47h2v1h-2zM32 47h2v1h-2zM19 48h2v1h-2zM32 48h1v1h-1zM18 49h2v1h-2zM30 49h2v1h-2zM16 50h3v1h-3zM28 50h3v1h-3zM16 51h2v1h-2zM26 51h4v1h-4zM15 52h2v1h-2zM27 52h2v1h-2zM14 53h1v1h-1zM16 53h2v1h-2zM25 53h2v1h-2zM15 54h1v1h-1zM23 54h3v1h-3zM13 55h2v1h-2zM21 55h3v1h-3zM12 56h1v1h-1zM20 56h4v1h-4zM11 57h2v1h-2zM20 57h1v1h-1zM11 58h2v1h-2zM19 58h1v1h-1zM10 59h2v1h-2zM17 59h2v1h-2zM10 60h1v1h-1zM15 60h2v1h-2zM10 61h1v1h-1zM14 61h1v1h-1zM9 62h1v1h-1zM11 62h3v1h-3zM8 63h4v1h-4zM8 64h2v1h-2z"/>
<path fill="#433b83" stroke="#433b83" stroke-width="0.14" d="M68 9h1v1h-1zM68 10h1v1h-1zM66 11h1v1h-1zM64 12h3v1h-3zM63 13h1v1h-1zM65 13h1v1h-1zM64 14h2v1h-2zM63 15h2v1h-2zM62 16h2v1h-2zM58 17h1v1h-1zM60 17h3v1h-3zM57 18h1v1h-1zM60 18h2v1h-2zM55 19h1v1h-1zM59 19h2v1h-2zM54 20h1v1h-1zM59 20h1v1h-1zM53 21h1v1h-1zM58 21h2v1h-2zM58 22h1v1h-1zM55 23h2v1h-2zM55 24h1v1h-1zM48 25h1v1h-1zM53 25h3v1h-3zM52 26h1v1h-1zM46 27h1v1h-1zM51 27h3v1h-3zM51 28h2v1h-2zM49 29h3v1h-3zM48 30h1v1h-1zM41 31h1v1h-1zM47 31h1v1h-1zM49 31h1v1h-1zM46 32h1v1h-1zM48 32h1v1h-1zM39 33h1v1h-1zM45 33h3v1h-3zM43 34h3v1h-3zM43 35h3v1h-3zM42 36h2v1h-2zM41 37h3v1h-3zM40 38h2v1h-2zM38 39h2v1h-2zM41 39h1v1h-1zM31 40h1v1h-1zM38 40h2v1h-2zM36 41h3v1h-3zM29 42h1v1h-1zM35 42h4v1h-4zM27 43h2v1h-2zM34 43h2v1h-2zM26 44h1v1h-1zM35 44h1v1h-1zM24 45h2v1h-2zM31 45h1v1h-1zM33 45h1v1h-1zM35 45h1v1h-1zM23 46h2v1h-2zM32 46h1v1h-1zM22 47h1v1h-1zM30 47h2v1h-2zM21 48h2v1h-2zM28 48h4v1h-4zM20 49h2v1h-2zM27 49h3v1h-3zM19 50h2v1h-2zM27 50h1v1h-1zM18 51h2v1h-2zM25 51h1v1h-1zM17 52h2v1h-2zM24 52h3v1h-3zM15 53h1v1h-1zM24 53h1v1h-1zM14 54h1v1h-1zM16 54h1v1h-1zM22 54h1v1h-1zM16 55h1v1h-1zM13 56h2v1h-2zM13 57h1v1h-1zM15 57h1v1h-1zM17 57h3v1h-3zM16 58h3v1h-3zM12 59h2v1h-2zM15 59h2v1h-2zM11 60h1v1h-1zM13 60h2v1h-2zM11 61h3v1h-3zM10 62h1v1h-1z"/>
<path fill="#3d4a89" stroke="#3d4a89" stroke-width="0.14" d="M67 10h1v1h-1zM67 11h1v1h-1zM64 13h1v1h-1zM62 14h2v1h-2zM61 15h2v1h-2zM60 16h2v1h-2zM59 17h1v1h-1zM56 19h1v1h-1zM57 20h2v1h-2zM57 21h1v1h-1zM52 22h1v1h-1zM55 22h2v1h-2zM54 24h1v1h-1zM47 26h1v1h-1zM51 26h1v1h-1zM50 27h1v1h-1zM50 28h1v1h-1zM47 30h1v1h-1zM46 31h1v1h-1zM40 32h1v1h-1zM45 32h1v1h-1zM44 33h1v1h-1zM42 35h1v1h-1zM41 36h1v1h-1zM40 37h1v1h-1zM39 38h1v1h-1zM37 40h1v1h-1zM35 41h1v1h-1zM27 44h1v1h-1zM32 44h3v1h-3zM26 45h1v1h-1zM32 45h1v1h-1zM25 46h1v1h-1zM30 46h2v1h-2zM23 47h2v1h-2zM29 47h1v1h-1zM23 48h1v1h-1zM27 48h1v1h-1zM26 49h1v1h-1zM21 50h1v1h-1zM26 50h1v1h-1zM24 51h1v1h-1zM19 52h1v1h-1zM22 52h2v1h-2zM18 53h1v1h-1zM21 53h3v1h-3zM20 54h2v1h-2zM15 55h1v1h-1zM17 55h1v1h-1zM19 55h2v1h-2zM15 56h5v1h-5zM14 57h1v1h-1zM16 57h1v1h-1zM13 58h3v1h-3zM14 59h1v1h-1zM12 60h1v1h-1z"/>
<path fill="#37588c" stroke="#37588c" stroke-width="0.14" d="M58 18h2v1h-2zM57 19h2v1h-2zM55 20h2v1h-2zM55 21h2v1h-2zM54 22h1v1h-1zM54 23h1v1h-1zM53 24h1v1h-1zM52 25h1v1h-1zM49 27h1v1h-1zM45 28h1v1h-1zM49 28h1v1h-1zM48 29h1v1h-1zM38 34h1v1h-1zM37 35h1v1h-1zM41 35h1v1h-1zM36 36h1v1h-1zM38 38h1v1h-1zM37 39h1v1h-1zM36 40h1v1h-1zM33 43h1v1h-1zM30 45h1v1h-1zM29 46h1v1h-1zM28 47h1v1h-1zM22 49h1v1h-1zM25 50h1v1h-1zM20 51h1v1h-1zM23 51h1v1h-1zM20 52h1v1h-1zM19 53h2v1h-2zM17 54h3v1h-3zM18 55h1v1h-1z"/>
<path fill="#31658d" stroke="#31658d" stroke-width="0.14" d="M54 21h1v1h-1zM51 23h1v1h-1zM53 23h1v1h-1zM50 24h1v1h-1zM52 24h1v1h-1zM47 29h1v1h-1zM42 34h1v1h-1zM40 36h1v1h-1zM35 37h1v1h-1zM39 37h1v1h-1zM34 42h1v1h-1zM31 44h1v1h-1zM24 48h1v1h-1zM26 48h1v1h-1zM25 49h1v1h-1zM22 50h3v1h-3zM22 51h1v1h-1zM21 52h1v1h-1z"/>
<path fill="#2c728e" stroke="#2c728e" stroke-width="0.14" d="M53 22h1v1h-1zM52 23h1v1h-1zM49 25h1v1h-1zM51 25h1v1h-1zM50 26h1v1h-1zM48 28h1v1h-1zM44 29h1v1h-1zM43 30h1v1h-1zM46 30h1v1h-1zM45 31h1v1h-1zM44 32h1v1h-1zM43 33h1v1h-1zM34 38h1v1h-1zM33 42h1v1h-1zM32 43h1v1h-1zM28 44h1v1h-1zM23 49h1v1h-1zM21 51h1v1h-1z"/>
<path fill="#277d8e" stroke="#277d8e" stroke-width="0.14" d="M51 24h1v1h-1zM48 26h1v1h-1zM42 31h1v1h-1zM33 39h1v1h-1zM32 40h1v1h-1zM34 41h1v1h-1zM30 42h1v1h-1zM25 47h1v1h-1zM27 47h1v1h-1z"/>
<path fill="#22898d" stroke="#22898d" stroke-width="0.14" d="M50 25h1v1h-1zM35 40h1v1h-1zM31 41h1v1h-1zM29 43h1v1h-1zM27 45h1v1h-1zM29 45h1v1h-1zM27 46h2v1h-2zM26 47h1v1h-1zM25 48h1v1h-1z"/>
<path fill="#1f968b" stroke="#1f968b" stroke-width="0.14" d="M49 26h1v1h-1zM46 28h1v1h-1zM38 37h1v1h-1zM36 39h1v1h-1zM26 46h1v1h-1zM24 49h1v1h-1z"/>
<path fill="#1fa286" stroke="#1fa286" stroke-width="0.14" d="M47 27h2v1h-2zM47 28h1v1h-1zM41 32h1v1h-1zM37 38h1v1h-1zM29 44h2v1h-2zM28 45h1v1h-1z"/>
<path fill="#28ae7f" stroke="#28ae7f" stroke-width="0.14" d="M43 32h1v1h-1z"/>
<path fill="#38b976" stroke="#38b976" stroke-width="0.14" d="M44 30h1v1h-1zM42 32h1v1h-1zM40 33h1v1h-1zM39 34h1v1h-1zM37 36h1v1h-1zM39 36h1v1h-1zM33 40h1v1h-1z"/>
<path fill="#4fc369" stroke="#4fc369" stroke-width="0.14" d="M46 29h1v1h-1zM45 30h1v1h-1zM42 33h1v1h-1zM41 34h1v1h-1zM38 35h1v1h-1zM34 40h1v1h-1zM30 43h1v1h-1z"/>
<path fill="#6bcd59" stroke="#6bcd59" stroke-width="0.14" d="M45 29h1v1h-1zM43 31h1v1h-1zM40 35h1v1h-1zM35 38h1v1h-1zM31 42h2v1h-2zM31 43h1v1h-1z"/>
<path fill="#8bd546" stroke="#8bd546" stroke-width="0.14" d="M44 31h1v1h-1zM33 41h1v1h-1z"/>
<path fill="#addc30" stroke="#addc30" stroke-width="0.14" d="M41 33h1v1h-1zM40 34h1v1h-1zM38 36h1v1h-1zM36 37h2v1h-2zM34 39h1v1h-1z"/>
<path fill="#cde01d" stroke="#cde01d" stroke-width="0.14" d="M36 38h1v1h-1zM32 41h1v1h-1z"/>
<path fill="#eee51b" stroke="#eee51b" stroke-width="0.14" d="M39 35h1v1h-1zM35 39h1v1h-1z"/>
<path d="M1 0V75M2 0V75M3 0V75M4 0V75M5 0V75M6 0V75M7 0V75M8 0V75M9 0V75M10 0V75M11 0V75M12 0V75M13 0V75M14 0V75M15 0V75M16 0V75M17 0V75M18 0V75M19 0V75M20 0V75M21 0V75M22 0V75M23 0V75M24 0V75M25 0V75M26 0V75M27 0V75M28 0V75M29 0V75M30 0V75M31 0V75M32 0V75M33 0V75M34 0V75M35 0V75M36 0V75M37 0V75M38 0V75M39 0V75M40 0V75M41 0V75M42 0V75M43 0V75M44 0V75M45 0V75M46 0V75M47 0V75M48 0V75M49 0V75M50 0V75M51 0V75M52 0V75M53 0V75M54 0V75M55 0V75M56 0V75M57 0V75M58 0V75M59 0V75M60 0V75M61 0V75M62 0V75M63 0V75M64 0V75M65 0V75M66 0V75M67 0V75M68 0V75M69 0V75M70 0V75M71 0V75M72 0V75M73 0V75M74 0V75M75 0V75M0 1H76M0 2H76M0 3H76M0 4H76M0 5H76M0 6H76M0 7H76M0 8H76M0 9H76M0 10H76M0 11H76M0 12H76M0 13H76M0 14H76M0 15H76M0 16H76M0 17H76M0 18H76M0 19H76M0 20H76M0 21H76M0 22H76M0 23H76M0 24H76M0 25H76M0 26H76M0 27H76M0 28H76M0 29H76M0 30H76M0 31H76M0 32H76M0 33H76M0 34H76M0 35H76M0 36H76M0 37H76M0 38H76M0 39H76M0 40H76M0 41H76M0 42H76M0 43H76M0 44H76M0 45H76M0 46H76M0 47H76M0 48H76M0 49H76M0 50H76M0 51H76M0 52H76M0 53H76M0 54H76M0 55H76M0 56H76M0 57H76M0 58H76M0 59H76M0 60H76M0 61H76M0 62H76M0 63H76M0 64H76M0 65H76M0 66H76M0 67H76M0 68H76M0 69H76M0 70H76M0 71H76M0 72H76M0 73H76M0 74H76" stroke="#fff" stroke-opacity="0.12" stroke-width="0.22" fill="none"/>
</g>
<line x1="336.8" y1="113.2" x2="426.1" y2="31.5" stroke="#3366ff" stroke-width="1.3"/>
</g>
<rect x="324.2" y="19.5" width="109.80000000000001" height="108.5" fill="none" stroke="#555" stroke-width="0.9"/>
<line x1="329.6" y1="128" x2="329.6" y2="130" stroke="#555" stroke-width="0.8"/>
<text x="329.6" y="136.8" font-size="8" text-anchor="middle" fill="#4d4d4d" >-2</text>
<line x1="363" y1="128" x2="363" y2="130" stroke="#555" stroke-width="0.8"/>
<text x="363" y="136.8" font-size="8" text-anchor="middle" fill="#4d4d4d" >0</text>
<line x1="396.5" y1="128" x2="396.5" y2="130" stroke="#555" stroke-width="0.8"/>
<text x="396.5" y="136.8" font-size="8" text-anchor="middle" fill="#4d4d4d" >2</text>
<line x1="430.1" y1="128" x2="430.1" y2="130" stroke="#555" stroke-width="0.8"/>
<text x="430.1" y="136.8" font-size="8" text-anchor="middle" fill="#4d4d4d" >4</text>
<line x1="322.2" y1="24.2" x2="324.2" y2="24.2" stroke="#555" stroke-width="0.8"/>
<text x="320.7" y="26.799999999999997" font-size="8" text-anchor="end" fill="#4d4d4d" >4</text>
<line x1="322.2" y1="57.2" x2="324.2" y2="57.2" stroke="#555" stroke-width="0.8"/>
<text x="320.7" y="59.800000000000004" font-size="8" text-anchor="end" fill="#4d4d4d" >2</text>
<line x1="322.2" y1="90.2" x2="324.2" y2="90.2" stroke="#555" stroke-width="0.8"/>
<text x="320.7" y="92.80000000000001" font-size="8" text-anchor="end" fill="#4d4d4d" >0</text>
<line x1="322.2" y1="123.2" x2="324.2" y2="123.2" stroke="#555" stroke-width="0.8"/>
<text x="320.7" y="125.80000000000001" font-size="8" text-anchor="end" fill="#4d4d4d" >-2</text>
<text x="379.6" y="147.6" font-size="8.8" font-weight="bold" text-anchor="middle" fill="#000">R#1 (Log<tspan font-size="5.8" dy="1.5">10</tspan><tspan dy="-1.5"> RPKM)</tspan></text>
<text transform="translate(313.0,74.65) rotate(-90)" font-size="8.8" font-weight="bold" text-anchor="middle" fill="#000">R#2 (Log<tspan font-size="5.8" dy="1.5">10</tspan><tspan dy="-1.5"> RPKM)</tspan></text>
<text x="331.4" y="30.3" font-size="7.2" fill="#333">R<tspan font-size="4.4" dy="-2.3">2</tspan><tspan dy="2.3">=0.89</tspan></text>
<g stroke="#000" stroke-width="1.2" fill="none">
<path d="M69.2 175.7V297.3H221.3"/>
<line x1="65.5" y1="175.7" x2="69.2" y2="175.7"/>
<line x1="65.5" y1="203.5" x2="69.2" y2="203.5"/>
<line x1="65.5" y1="233.8" x2="69.2" y2="233.8"/>
<line x1="65.5" y1="263.7" x2="69.2" y2="263.7"/>
<line x1="65.5" y1="297.3" x2="69.2" y2="297.3"/>
<line x1="69.2" y1="297.3" x2="69.2" y2="301"/>
<line x1="107.2" y1="297.3" x2="107.2" y2="301"/>
<line x1="144.2" y1="297.3" x2="144.2" y2="301"/>
<line x1="183.3" y1="297.3" x2="183.3" y2="301"/>
<line x1="221.3" y1="297.3" x2="221.3" y2="301"/>
</g>
<text x="63.5" y="178.0" font-size="7.1" text-anchor="end" fill="#222" >-120</text>
<text x="63.5" y="205.8" font-size="7.1" text-anchor="end" fill="#222" >-60</text>
<text x="63.5" y="236.10000000000002" font-size="7.1" text-anchor="end" fill="#222" >0</text>
<text x="63.5" y="266.0" font-size="7.1" text-anchor="end" fill="#222" >60</text>
<text x="63.5" y="299.6" font-size="7.1" text-anchor="end" fill="#222" >120</text>
<text x="68.3" y="307.6" font-size="7.1" text-anchor="middle" fill="#222" >200</text>
<text x="106.8" y="307.6" font-size="7.1" text-anchor="middle" fill="#222" >100</text>
<text x="144.2" y="307.6" font-size="7.1" text-anchor="middle" fill="#222" >0</text>
<text x="181.3" y="307.6" font-size="7.1" text-anchor="middle" fill="#222" >-100</text>
<text x="216.9" y="307.6" font-size="7.1" text-anchor="middle" fill="#222" >-200</text>
<text x="140.3" y="318.6" font-size="8.7" font-weight="bold" text-anchor="middle" fill="#000" >PC1 (44.56%)</text>
<text transform="translate(49.3,236.6) rotate(-90)" font-size="8.7" font-weight="bold" text-anchor="middle" fill="#000">PC2 (16.92%)</text>
<ellipse cx="133.1" cy="177.3" rx="17.2" ry="8.2" transform="rotate(47 133.1 177.3)" fill="none" stroke="#2f88d6" stroke-width="1.2"/>
<circle cx="130" cy="173.5" r="3" fill="#1a6fc8"/><circle cx="135.1" cy="180.3" r="3" fill="#1a6fc8"/>
<text x="106" y="180.5" font-size="8.3" text-anchor="start" fill="#222" >R#1</text>
<text x="113.5" y="190.3" font-size="8.3" text-anchor="start" fill="#222" >R#2</text>
<ellipse cx="88.85" cy="270.4" rx="20.3" ry="9" transform="rotate(-61 88.85 270.4)" fill="none" stroke="#35b56e" stroke-width="1.2"/>
<circle cx="93.6" cy="259.2" r="3" fill="#16a85a"/><circle cx="84.3" cy="283.1" r="3" fill="#16a85a"/>
<text x="101.8" y="263.7" font-size="8.3" text-anchor="start" fill="#222" >C#1</text>
<text x="91.1" y="290" font-size="8.3" text-anchor="start" fill="#222" >C#2</text>
<ellipse cx="209.7" cy="255.75" rx="17.3" ry="8.5" transform="rotate(-35 209.7 255.75)" fill="none" stroke="#ea2a2a" stroke-width="1.2"/>
<circle cx="216.6" cy="251.8" r="3" fill="#ee1111"/><circle cx="203.9" cy="259.2" r="3" fill="#ee1111"/>
<text x="196.6" y="245.7" font-size="8.3" text-anchor="start" fill="#222" >D#1</text>
<text x="181.6" y="256.1" font-size="8.3" text-anchor="start" fill="#222" >D#2</text>
<rect x="287" y="171" width="134.60000000000002" height="132" fill="#fff"/>
<g stroke="#f0f0f0" stroke-width="0.6">
<line x1="287" y1="285.9" x2="421.6" y2="285.9"/>
<line x1="287" y1="253.6" x2="421.6" y2="253.6"/>
<line x1="287" y1="221.2" x2="421.6" y2="221.2"/>
<line x1="287" y1="189.0" x2="421.6" y2="189.0"/>
</g><g stroke="#e8e8e8" stroke-width="0.8">
<line x1="287" y1="302.0" x2="421.6" y2="302.0"/>
<line x1="287" y1="269.7" x2="421.6" y2="269.7"/>
<line x1="287" y1="237.4" x2="421.6" y2="237.4"/>
<line x1="287" y1="205.1" x2="421.6" y2="205.1"/>
<line x1="287" y1="172.8" x2="421.6" y2="172.8"/>
<line x1="312" y1="171" x2="312" y2="303"/>
<line x1="354.5" y1="171" x2="354.5" y2="303"/>
<line x1="396.5" y1="171" x2="396.5" y2="303"/>
</g>
<rect x="293.1" y="179.0" width="37.89999999999998" height="58.4" fill="#f8766d"/>
<rect x="293.1" y="237.4" width="37.89999999999998" height="49.0" fill="#00bfc4"/>
<rect x="335.2" y="214.7" width="38.30000000000001" height="22.7" fill="#f8766d"/>
<rect x="335.2" y="237.4" width="38.30000000000001" height="13.1" fill="#00bfc4"/>
<rect x="377.6" y="203.6" width="37.89999999999998" height="33.8" fill="#f8766d"/>
<rect x="377.6" y="237.4" width="37.89999999999998" height="29.4" fill="#00bfc4"/>
<rect x="287" y="171" width="134.60000000000002" height="132" fill="none" stroke="#666" stroke-width="1.15"/>
<text x="312" y="201.3" font-size="7.4" font-weight="bold" text-anchor="middle" fill="#1a1a1a" >Group 1</text>
<text x="312" y="209.70000000000002" font-size="7.3" text-anchor="middle" fill="#1a1a1a" >(4517)</text>
<text x="312" y="256.59999999999997" font-size="7.4" font-weight="bold" text-anchor="middle" fill="#1a1a1a" >Group 2</text>
<text x="312" y="263.7" font-size="7.3" text-anchor="middle" fill="#1a1a1a" >(3794)</text>
<text x="354.3" y="225.3" font-size="7.4" font-weight="bold" text-anchor="middle" fill="#1a1a1a" >Group 3</text>
<text x="354.3" y="233.5" font-size="7.3" text-anchor="middle" fill="#1a1a1a" >(1755)</text>
<text x="354.3" y="243.5" font-size="7.4" font-weight="bold" text-anchor="middle" fill="#1a1a1a" >Group 4</text>
<text x="354.3" y="250.0" font-size="7.3" text-anchor="middle" fill="#1a1a1a" >(1011)</text>
<text x="396.5" y="215.20000000000002" font-size="7.4" font-weight="bold" text-anchor="middle" fill="#1a1a1a" >Group 5</text>
<text x="396.5" y="222.6" font-size="7.3" text-anchor="middle" fill="#1a1a1a" >(2614)</text>
<text x="396.5" y="246.3" font-size="7.4" font-weight="bold" text-anchor="middle" fill="#1a1a1a" >Group 6</text>
<text x="396.5" y="253.5" font-size="7.3" text-anchor="middle" fill="#1a1a1a" >(2274)</text>
<line x1="284.2" y1="302.0" x2="287" y2="302.0" stroke="#333" stroke-width="0.8"/>
<text x="280.3" y="304.7" font-size="7.6" text-anchor="end" fill="#444" >5000</text>
<line x1="284.2" y1="269.7" x2="287" y2="269.7" stroke="#333" stroke-width="0.8"/>
<text x="280.3" y="272.4" font-size="7.6" text-anchor="end" fill="#444" >2500</text>
<line x1="284.2" y1="237.4" x2="287" y2="237.4" stroke="#333" stroke-width="0.8"/>
<text x="280.3" y="240.1" font-size="7.6" text-anchor="end" fill="#444" >0</text>
<line x1="284.2" y1="205.1" x2="287" y2="205.1" stroke="#333" stroke-width="0.8"/>
<text x="280.3" y="207.8" font-size="7.6" text-anchor="end" fill="#444" >2500</text>
<line x1="284.2" y1="172.8" x2="287" y2="172.8" stroke="#333" stroke-width="0.8"/>
<text x="280.3" y="175.5" font-size="7.6" text-anchor="end" fill="#444" >5000</text>
<line x1="312" y1="303" x2="312" y2="305.5" stroke="#333" stroke-width="0.8"/>
<text x="313.5" y="315" font-size="8.8" font-weight="bold" text-anchor="middle" fill="#000" >C vs. D</text>
<line x1="354.5" y1="303" x2="354.5" y2="305.5" stroke="#333" stroke-width="0.8"/>
<text x="356.0" y="315" font-size="8.8" font-weight="bold" text-anchor="middle" fill="#000" >C vs. R</text>
<line x1="396.5" y1="303" x2="396.5" y2="305.5" stroke="#333" stroke-width="0.8"/>
<text x="398.0" y="315" font-size="8.8" font-weight="bold" text-anchor="middle" fill="#000" >D vs. R</text>
<text transform="translate(261,238.2) rotate(-90)" font-size="8.6" font-weight="bold" text-anchor="middle" fill="#000">Number of DEGs</text>
<rect x="424.8" y="228.9" width="12.2" height="12" fill="#f8766d"/><rect x="424.8" y="242.8" width="12.2" height="12.3" fill="#00bfc4"/>
<text x="439" y="238.5" font-size="7.3" text-anchor="start" fill="#222" >Up</text>
<text x="439" y="250.8" font-size="7.3" text-anchor="start" fill="#222" >Down</text>
<g stroke="#000" stroke-width="1" fill="none">
<path d="M82.2 367.6V361.4H106V367.6"/>
<path d="M94.1 361.4V355.7H129.9V367.6"/>
<path d="M155 367.6V355.7H191.6V361.4"/>
<path d="M179.7 367.6V361.4H203.5V367.6"/>
<path d="M112 355.7V349.6H173.3V355.7"/>
</g>
<text transform="translate(84.8,396.3) rotate(-90)" font-size="7.3" font-weight="bold" fill="#111">Group3</text>
<text transform="translate(108.6,396.3) rotate(-90)" font-size="7.3" font-weight="bold" fill="#111">Group1</text>
<text transform="translate(132.5,396.3) rotate(-90)" font-size="7.3" font-weight="bold" fill="#111">Group6</text>
<text transform="translate(157.6,396.3) rotate(-90)" font-size="7.3" font-weight="bold" fill="#111">Group4</text>
<text transform="translate(182.29999999999998,396.3) rotate(-90)" font-size="7.3" font-weight="bold" fill="#111">Group2</text>
<text transform="translate(206.1,396.3) rotate(-90)" font-size="7.3" font-weight="bold" fill="#111">Group5</text>
<rect x="68.4" y="398.8" width="24.3" height="23.95" fill="#c44548" stroke="#a3a3a3" stroke-width="0.8"/>
<text x="80.6" y="413.5" font-size="7.5" font-weight="bold" text-anchor="middle" fill="#fff" >1755</text>
<rect x="92.7" y="398.8" width="24.3" height="23.95" fill="#d0625e" stroke="#a3a3a3" stroke-width="0.8"/>
<text x="104.9" y="413.5" font-size="7.5" font-weight="bold" text-anchor="middle" fill="#fff" >1540</text>
<rect x="117.0" y="398.8" width="24.3" height="23.95" fill="#e07f74" stroke="#a3a3a3" stroke-width="0.8"/>
<text x="129.2" y="413.5" font-size="7.5" font-weight="bold" text-anchor="middle" fill="#fff" >771</text>
<rect x="141.3" y="398.8" width="24.3" height="23.95" fill="#3f57b3" stroke="#a3a3a3" stroke-width="0.8"/>
<text x="153.5" y="413.5" font-size="7.5" font-weight="bold" text-anchor="middle" fill="#fff" >0</text>
<rect x="165.6" y="398.8" width="24.3" height="23.95" fill="#5d7fca" stroke="#a3a3a3" stroke-width="0.8"/>
<text x="177.8" y="413.5" font-size="7.5" font-weight="bold" text-anchor="middle" fill="#fff" >8</text>
<rect x="189.9" y="398.8" width="24.3" height="23.95" fill="#7a9bd6" stroke="#a3a3a3" stroke-width="0.8"/>
<text x="202.1" y="413.5" font-size="7.5" font-weight="bold" text-anchor="middle" fill="#fff" >103</text>
<rect x="92.7" y="422.8" width="24.3" height="23.95" fill="#c8474a" stroke="#a3a3a3" stroke-width="0.8"/>
<text x="104.9" y="437.4" font-size="7.5" font-weight="bold" text-anchor="middle" fill="#fff" >4517</text>
<rect x="117.0" y="422.8" width="24.3" height="23.95" fill="#cf5b59" stroke="#a3a3a3" stroke-width="0.8"/>
<text x="129.2" y="437.4" font-size="7.5" font-weight="bold" text-anchor="middle" fill="#fff" >2058</text>
<rect x="141.3" y="422.8" width="24.3" height="23.95" fill="#6b8fd2" stroke="#a3a3a3" stroke-width="0.8"/>
<text x="153.5" y="437.4" font-size="7.5" font-weight="bold" text-anchor="middle" fill="#fff" >4</text>
<rect x="165.6" y="422.8" width="24.3" height="23.95" fill="#88abe0" stroke="#a3a3a3" stroke-width="0.8"/>
<text x="177.8" y="437.4" font-size="7.5" font-weight="bold" text-anchor="middle" fill="#fff" >0</text>
<rect x="189.9" y="422.8" width="24.3" height="23.95" fill="#85a8de" stroke="#a3a3a3" stroke-width="0.8"/>
<text x="202.1" y="437.4" font-size="7.5" font-weight="bold" text-anchor="middle" fill="#fff" >7</text>
<rect x="117.0" y="446.7" width="24.3" height="23.95" fill="#c8484a" stroke="#a3a3a3" stroke-width="0.8"/>
<text x="129.2" y="461.4" font-size="7.5" font-weight="bold" text-anchor="middle" fill="#fff" >2274</text>
<rect x="141.3" y="446.7" width="24.3" height="23.95" fill="#6588cf" stroke="#a3a3a3" stroke-width="0.8"/>
<text x="153.5" y="461.4" font-size="7.5" font-weight="bold" text-anchor="middle" fill="#fff" >34</text>
<rect x="165.6" y="446.7" width="24.3" height="23.95" fill="#6b8ed2" stroke="#a3a3a3" stroke-width="0.8"/>
<text x="177.8" y="461.4" font-size="7.5" font-weight="bold" text-anchor="middle" fill="#fff" >2</text>
<rect x="189.9" y="446.7" width="24.3" height="23.95" fill="#7a9cd8" stroke="#a3a3a3" stroke-width="0.8"/>
<text x="202.1" y="461.4" font-size="7.5" font-weight="bold" text-anchor="middle" fill="#fff" >0</text>
<rect x="141.3" y="470.6" width="24.3" height="23.95" fill="#c4464b" stroke="#a3a3a3" stroke-width="0.8"/>
<text x="153.5" y="485.3" font-size="7.5" font-weight="bold" text-anchor="middle" fill="#fff" >1011</text>
<rect x="165.6" y="470.6" width="24.3" height="23.95" fill="#de8076" stroke="#a3a3a3" stroke-width="0.8"/>
<text x="177.8" y="485.3" font-size="7.5" font-weight="bold" text-anchor="middle" fill="#fff" >816</text>
<rect x="189.9" y="470.6" width="24.3" height="23.95" fill="#f0b0a4" stroke="#a3a3a3" stroke-width="0.8"/>
<text x="202.1" y="485.3" font-size="7.5" font-weight="bold" text-anchor="middle" fill="#fff" >306</text>
<rect x="165.6" y="494.6" width="24.3" height="23.95" fill="#c4434a" stroke="#a3a3a3" stroke-width="0.8"/>
<text x="177.8" y="509.3" font-size="7.5" font-weight="bold" text-anchor="middle" fill="#fff" >3794</text>
<rect x="189.9" y="494.6" width="24.3" height="23.95" fill="#cf5457" stroke="#a3a3a3" stroke-width="0.8"/>
<text x="202.1" y="509.3" font-size="7.5" font-weight="bold" text-anchor="middle" fill="#fff" >2147</text>
<rect x="189.9" y="518.5" width="24.3" height="23.95" fill="#c8474d" stroke="#a3a3a3" stroke-width="0.8"/>
<text x="202.1" y="533.2" font-size="7.5" font-weight="bold" text-anchor="middle" fill="#fff" >2614</text>
<text x="65.4" y="413.4" font-size="7.2" font-weight="bold" text-anchor="end" fill="#111" >Group3</text>
<text x="89.7" y="437.3" font-size="7.2" font-weight="bold" text-anchor="end" fill="#111" >Group1</text>
<text x="114.0" y="461.3" font-size="7.2" font-weight="bold" text-anchor="end" fill="#111" >Group6</text>
<text x="138.3" y="485.2" font-size="7.2" font-weight="bold" text-anchor="end" fill="#111" >Group4</text>
<text x="162.6" y="509.2" font-size="7.2" font-weight="bold" text-anchor="end" fill="#111" >Group2</text>
<text x="186.9" y="533.1" font-size="7.2" font-weight="bold" text-anchor="end" fill="#111" >Group5</text>
<defs><linearGradient id="cb" x1="0" y1="0" x2="0" y2="1"><stop offset="0" stop-color="#c24a4a"/><stop offset="0.3" stop-color="#e59a92"/><stop offset="0.55" stop-color="#ffffff"/><stop offset="0.7" stop-color="#c8f2f8"/><stop offset="0.85" stop-color="#5a7ccc"/><stop offset="1" stop-color="#0c0c8a"/></linearGradient></defs>
<rect x="85.2" y="491.2" width="9.6" height="44.3" fill="url(#cb)" stroke="#555" stroke-width="0.5"/>
<line x1="94.8" y1="493.3" x2="96.8" y2="493.3" stroke="#555" stroke-width="0.6"/>
<text x="98.9" y="496.1" font-size="7.8" text-anchor="start" fill="#333" >1</text>
<line x1="94.8" y1="514.4" x2="96.8" y2="514.4" stroke="#555" stroke-width="0.6"/>
<text x="98.9" y="517.1999999999999" font-size="7.8" text-anchor="start" fill="#333" >0</text>
<line x1="94.8" y1="535.5" x2="96.8" y2="535.5" stroke="#555" stroke-width="0.6"/>
<text x="98.4" y="538.3" font-size="7.8" text-anchor="start" fill="#333" >−1</text>
<text transform="translate(74.3,513.4) rotate(-90)" font-size="8.2" font-weight="bold" text-anchor="middle" fill="#111">correlation</text>
<text transform="translate(84.7,513.6) rotate(-90)" font-size="8.2" font-weight="bold" text-anchor="middle" fill="#111">coefficient</text>
<text x="292.8" y="354.6" font-size="7.9" font-weight="bold" text-anchor="start" fill="#000" >Gene Ontology terms</text>
<rect x="374.7" y="357.5" width="66.60000000000002" height="131.3" fill="#fff" stroke="#8a8a8a" stroke-width="1"/>
<g stroke="#e6e6e6" stroke-width="0.6" stroke-dasharray="1.5 1">
<line x1="374.7" y1="364.4" x2="441.3" y2="364.4"/>
<line x1="374.7" y1="376.4" x2="441.3" y2="376.4"/>
<line x1="374.7" y1="388.2" x2="441.3" y2="388.2"/>
<line x1="374.7" y1="399.9" x2="441.3" y2="399.9"/>
<line x1="374.7" y1="411.8" x2="441.3" y2="411.8"/>
<line x1="374.7" y1="423.6" x2="441.3" y2="423.6"/>
<line x1="374.7" y1="435.4" x2="441.3" y2="435.4"/>
<line x1="374.7" y1="447" x2="441.3" y2="447"/>
<line x1="374.7" y1="459" x2="441.3" y2="459"/>
<line x1="374.7" y1="470.6" x2="441.3" y2="470.6"/>
<line x1="374.7" y1="482" x2="441.3" y2="482"/>
<line x1="381" y1="357.5" x2="381" y2="488.8"/>
<line x1="391.6" y1="357.5" x2="391.6" y2="488.8"/>
<line x1="402.3" y1="357.5" x2="402.3" y2="488.8"/>
<line x1="413" y1="357.5" x2="413" y2="488.8"/>
<line x1="423.7" y1="357.5" x2="423.7" y2="488.8"/>
<line x1="434.8" y1="357.5" x2="434.8" y2="488.8"/>
</g>
<text x="372.2" y="367.10" font-size="7.1" text-anchor="end" fill="#2a2a2a" >primary metabolic process</text>
<line x1="372.9" y1="364.4" x2="374.7" y2="364.4" stroke="#999" stroke-width="0.6"/>
<text x="372.2" y="379.23" font-size="7.1" text-anchor="end" fill="#2a2a2a" >carbohydrate metabolic process</text>
<line x1="372.9" y1="376.4" x2="374.7" y2="376.4" stroke="#999" stroke-width="0.6"/>
<text x="372.2" y="391.16" font-size="7.1" text-anchor="end" fill="#2a2a2a" >xylan catabolic process</text>
<line x1="372.9" y1="388.2" x2="374.7" y2="388.2" stroke="#999" stroke-width="0.6"/>
<text x="372.2" y="402.99" font-size="7.1" text-anchor="end" fill="#2a2a2a" >cell wall macromolecule catabolic process</text>
<line x1="372.9" y1="399.9" x2="374.7" y2="399.9" stroke="#999" stroke-width="0.6"/>
<text x="372.2" y="415.02" font-size="7.1" text-anchor="end" fill="#2a2a2a" >response to stimulus</text>
<line x1="372.9" y1="411.8" x2="374.7" y2="411.8" stroke="#999" stroke-width="0.6"/>
<text x="372.2" y="426.95" font-size="7.1" text-anchor="end" fill="#2a2a2a" >response to abscisic acid</text>
<line x1="372.9" y1="423.6" x2="374.7" y2="423.6" stroke="#999" stroke-width="0.6"/>
<text x="372.2" y="438.88" font-size="7.1" text-anchor="end" fill="#2a2a2a" >photosynthesis</text>
<line x1="372.9" y1="435.4" x2="374.7" y2="435.4" stroke="#999" stroke-width="0.6"/>
<text x="372.2" y="450.61" font-size="7.1" text-anchor="end" fill="#2a2a2a" >nitrogen compound metabolic process</text>
<line x1="372.9" y1="447" x2="374.7" y2="447" stroke="#999" stroke-width="0.6"/>
<text x="372.2" y="462.74" font-size="7.1" text-anchor="end" fill="#2a2a2a" >cellular modified amino acid metabolic process</text>
<line x1="372.9" y1="459" x2="374.7" y2="459" stroke="#999" stroke-width="0.6"/>
<text x="372.2" y="474.47" font-size="7.1" text-anchor="end" fill="#2a2a2a" >glutathione metabolic process</text>
<line x1="372.9" y1="470.6" x2="374.7" y2="470.6" stroke="#999" stroke-width="0.6"/>
<text x="372.2" y="486.00" font-size="7.1" text-anchor="end" fill="#2a2a2a" >phosphorylation</text>
<line x1="372.9" y1="482" x2="374.7" y2="482" stroke="#999" stroke-width="0.6"/>
<line x1="381" y1="488.8" x2="381" y2="490.8" stroke="#555" stroke-width="0.7"/>
<line x1="391.6" y1="488.8" x2="391.6" y2="490.8" stroke="#555" stroke-width="0.7"/>
<line x1="402.3" y1="488.8" x2="402.3" y2="490.8" stroke="#555" stroke-width="0.7"/>
<line x1="413" y1="488.8" x2="413" y2="490.8" stroke="#555" stroke-width="0.7"/>
<line x1="423.7" y1="488.8" x2="423.7" y2="490.8" stroke="#555" stroke-width="0.7"/>
<line x1="434.8" y1="488.8" x2="434.8" y2="490.8" stroke="#555" stroke-width="0.7"/>
<circle cx="381" cy="364.4" r="1.4" fill="#b5d23a"/>
<circle cx="391.6" cy="364.4" r="1.8" fill="#ff3030"/>
<circle cx="402.3" cy="364.4" r="1.8" fill="#eb9a30"/>
<circle cx="413" cy="364.4" r="1.55" fill="#55ee22"/>
<circle cx="423.7" cy="364.4" r="1.8" fill="#ff3535"/>
<circle cx="434.8" cy="364.4" r="1.8" fill="#ff3535"/>
<circle cx="381" cy="376.4" r="1.8" fill="#d0ad30"/>
<circle cx="391.6" cy="376.4" r="2.2" fill="#ff3535"/>
<circle cx="402.3" cy="376.4" r="2.0" fill="#ff3535"/>
<circle cx="413" cy="376.4" r="1.45" fill="#44ee22"/>
<circle cx="423.7" cy="376.4" r="2.0" fill="#a8d040"/>
<circle cx="434.8" cy="376.4" r="1.8" fill="#90e040"/>
<circle cx="381" cy="388.2" r="3.0" fill="#c0c030"/>
<circle cx="391.6" cy="388.2" r="4.2" fill="#ff5a3a"/>
<circle cx="402.3" cy="388.2" r="4.0" fill="#ff3b3b"/>
<circle cx="413" cy="388.2" r="1.25" fill="#55ee22"/>
<circle cx="423.7" cy="388.2" r="1.25" fill="#55ee22"/>
<circle cx="434.8" cy="388.2" r="1.25" fill="#55ee22"/>
<circle cx="381" cy="399.9" r="3.0" fill="#c8b838"/>
<circle cx="391.6" cy="399.9" r="3.5" fill="#fa6a35"/>
<circle cx="402.3" cy="399.9" r="3.3" fill="#f07a3a"/>
<circle cx="413" cy="399.9" r="1.25" fill="#55ee22"/>
<circle cx="423.7" cy="399.9" r="1.25" fill="#55ee22"/>
<circle cx="434.8" cy="399.9" r="1.25" fill="#55ee22"/>
<circle cx="381" cy="411.8" r="1.7" fill="#d4a030"/>
<circle cx="391.6" cy="411.8" r="1.8" fill="#c8b040"/>
<circle cx="402.3" cy="411.8" r="1.6" fill="#c0b040"/>
<circle cx="413" cy="411.8" r="1.35" fill="#55ee22"/>
<circle cx="423.7" cy="411.8" r="1.5" fill="#80e040"/>
<circle cx="434.8" cy="411.8" r="1.5" fill="#80e040"/>
<circle cx="381" cy="423.6" r="2.0" fill="#b8c040"/>
<circle cx="391.6" cy="423.6" r="2.2" fill="#c0c040"/>
<circle cx="402.3" cy="423.6" r="2.0" fill="#c0b040"/>
<circle cx="413" cy="423.6" r="1.15" fill="#55ee22"/>
<circle cx="423.7" cy="423.6" r="1.5" fill="#55ee22"/>
<circle cx="434.8" cy="423.6" r="1.5" fill="#80e040"/>
<circle cx="381" cy="435.4" r="1.45" fill="#55ee22"/>
<circle cx="391.6" cy="435.4" r="1.45" fill="#55ee22"/>
<circle cx="402.3" cy="435.4" r="1.45" fill="#55ee22"/>
<circle cx="413" cy="435.4" r="1.45" fill="#55ee22"/>
<circle cx="423.7" cy="435.4" r="2.5" fill="#ff3333"/>
<circle cx="434.8" cy="435.4" r="2.6" fill="#ff3333"/>
<circle cx="381" cy="447" r="1.45" fill="#55ee22"/>
<circle cx="391.6" cy="447" r="1.5" fill="#b0c840"/>
<circle cx="402.3" cy="447" r="1.45" fill="#55ee22"/>
<circle cx="413" cy="447" r="1.45" fill="#a0d040"/>
<circle cx="423.7" cy="447" r="1.8" fill="#ff3333"/>
<circle cx="434.8" cy="447" r="1.6" fill="#ff3333"/>
<circle cx="381" cy="459" r="1.45" fill="#55ee22"/>
<circle cx="391.6" cy="459" r="1.5" fill="#55ee22"/>
<circle cx="402.3" cy="459" r="1.5" fill="#55ee22"/>
<circle cx="413" cy="459" r="2.3" fill="#d89030"/>
<circle cx="423.7" cy="459" r="2.3" fill="#d0a840"/>
<circle cx="434.8" cy="459" r="2.3" fill="#d8a030"/>
<circle cx="381" cy="470.6" r="1.45" fill="#55ee22"/>
<circle cx="391.6" cy="470.6" r="1.5" fill="#55ee22"/>
<circle cx="402.3" cy="470.6" r="1.55" fill="#55ee22"/>
<circle cx="413" cy="470.6" r="2.2" fill="#d0b040"/>
<circle cx="423.7" cy="470.6" r="2.3" fill="#b8cc40"/>
<circle cx="434.8" cy="470.6" r="2.2" fill="#a8d040"/>
<circle cx="381" cy="482" r="1.45" fill="#55ee22"/>
<circle cx="391.6" cy="482" r="1.5" fill="#55ee22"/>
<circle cx="402.3" cy="482" r="1.55" fill="#55ee22"/>
<circle cx="413" cy="482" r="1.5" fill="#b8c040"/>
<circle cx="423.7" cy="482" r="1.8" fill="#b8d040"/>
<circle cx="434.8" cy="482" r="1.45" fill="#55ee22"/>
<text transform="translate(384.1,494.8) rotate(-38)" font-size="7.1" font-weight="bold" text-anchor="end" fill="#111">Group 3</text>
<text transform="translate(394.70000000000005,494.8) rotate(-38)" font-size="7.1" font-weight="bold" text-anchor="end" fill="#111">Group 1</text>
<text transform="translate(405.40000000000003,494.8) rotate(-38)" font-size="7.1" font-weight="bold" text-anchor="end" fill="#111">Group 6</text>
<text transform="translate(416.1,494.8) rotate(-38)" font-size="7.1" font-weight="bold" text-anchor="end" fill="#111">Group 4</text>
<text transform="translate(426.8,494.8) rotate(-38)" font-size="7.1" font-weight="bold" text-anchor="end" fill="#111">Group 2</text>
<text transform="translate(437.90000000000003,494.8) rotate(-38)" font-size="7.1" font-weight="bold" text-anchor="end" fill="#111">Group 5</text>
<text x="445.4" y="370" font-size="7" text-anchor="start" fill="#222" >p-value</text>
<text x="446" y="378.4" font-size="7" fill="#222">(-log<tspan font-size="4.8" dy="1.2">10</tspan><tspan dy="-1.2">)</tspan></text>
<defs><linearGradient id="pv" x1="0" y1="0" x2="0" y2="1"><stop offset="0" stop-color="#ff2a2a"/><stop offset="0.3" stop-color="#f06020"/><stop offset="0.55" stop-color="#c0a020"/><stop offset="0.8" stop-color="#80d030"/><stop offset="1" stop-color="#44ee22"/></linearGradient></defs>
<rect x="447" y="382.9" width="10" height="44.2" fill="url(#pv)"/>
<text x="459" y="387.9" font-size="7" text-anchor="start" fill="#222" >&gt;8</text>
<text x="459" y="399.3" font-size="7" text-anchor="start" fill="#222" >6</text>
<text x="459" y="410.8" font-size="7" text-anchor="start" fill="#222" >4</text>
<text x="459" y="422.2" font-size="7" text-anchor="start" fill="#222" >2</text>
<text x="459" y="431.2" font-size="7" text-anchor="start" fill="#222" >0</text>
<text x="446.7" y="447" font-size="7" text-anchor="start" fill="#222" >Ratio</text>
<circle cx="450.3" cy="452.9" r="0.7" fill="#404040"/>
<text x="456.9" y="457.5" font-size="7.2" text-anchor="start" fill="#222" >0.0</text>
<circle cx="450.3" cy="463.5" r="2.4" fill="#404040"/>
<text x="456.9" y="468.1" font-size="7.2" text-anchor="start" fill="#222" >0.1</text>
<circle cx="450.3" cy="473.4" r="2.9" fill="#404040"/>
<text x="456.9" y="478.0" font-size="7.2" text-anchor="start" fill="#222" >0.2</text>
<circle cx="450.3" cy="483.5" r="3.4" fill="#404040"/>
<text x="456.9" y="488.1" font-size="7.2" text-anchor="start" fill="#222" >0.3</text>
</svg></body></html>
